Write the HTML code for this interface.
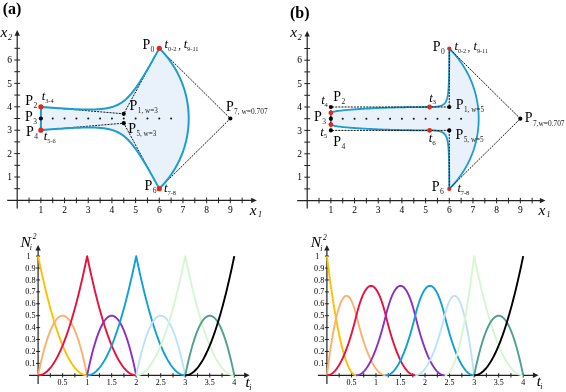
<!DOCTYPE html>
<html><head><meta charset="utf-8"><title>NURBS weights and knots</title>
<style>html,body{margin:0;padding:0;background:#fff}svg{display:block}svg text{font-family:"Liberation Serif","DejaVu Serif",serif}</style></head><body>
<svg width="566" height="392" viewBox="0 0 566 392" fill="#000">
<rect width="566" height="392" fill="#fff"/>
<path d="M159.28,48.3 L157.57,51.45 L155.97,54.36 L154.48,57.06 L153.08,59.58 L151.76,61.92 L150.52,64.11 L149.35,66.17 L148.24,68.09 L147.19,69.91 L146.18,71.61 L145.22,73.22 L144.31,74.75 L143.43,76.19 L142.59,77.55 L141.78,78.85 L141,80.08 L140.25,81.25 L139.52,82.37 L138.82,83.43 L138.14,84.44 L137.48,85.41 L136.83,86.34 L136.21,87.23 L135.6,88.08 L135.01,88.9 L134.42,89.68 L133.86,90.43 L133.3,91.15 L132.75,91.84 L132.22,92.51 L131.69,93.15 L131.17,93.77 L130.66,94.37 L130.16,94.94 L129.66,95.49 L129.17,96.03 L128.68,96.54 L128.2,97.04 L127.72,97.52 L127.24,97.99 L126.77,98.44 L126.3,98.88 L125.83,99.3 L125.37,99.71 L124.91,100.1 L124.44,100.48 L123.98,100.85 L123.52,101.21 L123.06,101.56 L122.59,101.9 L122.13,102.22 L121.66,102.54 L121.2,102.85 L120.73,103.15 L120.25,103.43 L119.78,103.71 L119.3,103.99 L118.82,104.25 L118.33,104.5 L117.84,104.75 L117.34,104.99 L116.84,105.23 L116.34,105.45 L115.82,105.67 L115.3,105.88 L114.78,106.09 L114.24,106.28 L113.7,106.48 L113.15,106.66 L112.59,106.84 L112.02,107.01 L111.44,107.18 L110.85,107.34 L110.24,107.5 L109.63,107.65 L109,107.79 L108.36,107.93 L107.7,108.06 L107.03,108.19 L106.35,108.31 L105.65,108.43 L104.92,108.54 L104.19,108.65 L103.43,108.75 L102.65,108.84 L101.84,108.93 L101.02,109.01 L100.17,109.09 L99.29,109.16 L98.39,109.22 L97.46,109.28 L96.49,109.34 L95.49,109.38 L94.46,109.42 L93.39,109.46 L92.28,109.48 L91.13,109.5 L89.93,109.51 L88.69,109.52 L87.39,109.52 L86.04,109.5 L84.63,109.48 L83.16,109.46 L81.62,109.42 L80,109.37 L78.31,109.31 L76.53,109.24 L74.66,109.16 L72.69,109.06 L70.61,108.95 L68.41,108.83 L66.08,108.69 L63.61,108.53 L60.98,108.36 L58.18,108.16 L55.19,107.94 L51.99,107.7 L48.56,107.43 L44.87,107.13 L40.88,106.8 L40.88,107 L40.88,107.19 L40.88,107.39 L40.88,107.58 L40.88,107.78 L40.88,107.97 L40.88,108.17 L40.88,108.36 L40.88,108.56 L40.88,108.75 L40.88,108.95 L40.88,109.14 L40.88,109.34 L40.88,109.53 L40.88,109.73 L40.88,109.92 L40.88,110.12 L40.88,110.31 L40.88,110.51 L40.88,110.7 L40.88,110.9 L40.88,111.09 L40.88,111.29 L40.88,111.48 L40.88,111.67 L40.88,111.87 L40.88,112.07 L40.88,112.26 L40.88,112.46 L40.88,112.65 L40.88,112.85 L40.88,113.04 L40.88,113.24 L40.88,113.43 L40.88,113.63 L40.88,113.82 L40.88,114.02 L40.88,114.21 L40.88,114.41 L40.88,114.6 L40.88,114.8 L40.88,114.99 L40.88,115.19 L40.88,115.38 L40.88,115.58 L40.88,115.77 L40.88,115.97 L40.88,116.16 L40.88,116.36 L40.88,116.55 L40.88,116.75 L40.88,116.94 L40.88,117.13 L40.88,117.33 L40.88,117.53 L40.88,117.72 L40.88,117.92 L40.88,118.11 L40.88,118.31 L40.88,118.5 L40.88,118.69 L40.88,118.89 L40.88,119.09 L40.88,119.28 L40.88,119.48 L40.88,119.67 L40.88,119.87 L40.88,120.06 L40.88,120.26 L40.88,120.45 L40.88,120.65 L40.88,120.84 L40.88,121.04 L40.88,121.23 L40.88,121.43 L40.88,121.62 L40.88,121.82 L40.88,122.01 L40.88,122.21 L40.88,122.4 L40.88,122.6 L40.88,122.79 L40.88,122.99 L40.88,123.18 L40.88,123.38 L40.88,123.57 L40.88,123.77 L40.88,123.96 L40.88,124.16 L40.88,124.35 L40.88,124.55 L40.88,124.74 L40.88,124.94 L40.88,125.13 L40.88,125.33 L40.88,125.52 L40.88,125.72 L40.88,125.91 L40.88,126.11 L40.88,126.3 L40.88,126.5 L40.88,126.69 L40.88,126.89 L40.88,127.08 L40.88,127.28 L40.88,127.47 L40.88,127.67 L40.88,127.86 L40.88,128.06 L40.88,128.25 L40.88,128.44 L40.88,128.64 L40.88,128.84 L40.88,129.03 L40.88,129.23 L40.88,129.42 L40.88,129.62 L40.88,129.81 L40.88,130 L40.88,130.2 L44.87,129.87 L48.56,129.57 L51.99,129.3 L55.19,129.06 L58.18,128.84 L60.98,128.64 L63.61,128.47 L66.08,128.31 L68.41,128.17 L70.61,128.05 L72.69,127.94 L74.66,127.84 L76.53,127.76 L78.31,127.69 L80,127.63 L81.62,127.58 L83.16,127.54 L84.63,127.52 L86.04,127.5 L87.39,127.48 L88.69,127.48 L89.93,127.49 L91.13,127.5 L92.28,127.52 L93.39,127.54 L94.46,127.58 L95.49,127.62 L96.49,127.66 L97.46,127.72 L98.39,127.78 L99.29,127.84 L100.17,127.91 L101.02,127.99 L101.84,128.07 L102.65,128.16 L103.43,128.25 L104.19,128.35 L104.92,128.46 L105.65,128.57 L106.35,128.69 L107.03,128.81 L107.7,128.94 L108.36,129.07 L109,129.21 L109.63,129.35 L110.24,129.5 L110.85,129.66 L111.44,129.82 L112.02,129.99 L112.59,130.16 L113.15,130.34 L113.7,130.52 L114.24,130.72 L114.78,130.91 L115.3,131.12 L115.82,131.33 L116.34,131.55 L116.84,131.77 L117.34,132.01 L117.84,132.25 L118.33,132.5 L118.82,132.75 L119.3,133.01 L119.78,133.29 L120.25,133.57 L120.73,133.85 L121.2,134.15 L121.66,134.46 L122.13,134.78 L122.59,135.1 L123.06,135.44 L123.52,135.79 L123.98,136.15 L124.44,136.52 L124.91,136.9 L125.37,137.29 L125.83,137.7 L126.3,138.12 L126.77,138.56 L127.24,139.01 L127.72,139.48 L128.2,139.96 L128.68,140.46 L129.17,140.97 L129.66,141.51 L130.16,142.06 L130.66,142.63 L131.17,143.23 L131.69,143.85 L132.22,144.49 L132.75,145.16 L133.3,145.85 L133.86,146.57 L134.42,147.32 L135.01,148.1 L135.6,148.92 L136.21,149.77 L136.83,150.66 L137.48,151.59 L138.14,152.56 L138.82,153.57 L139.52,154.63 L140.25,155.75 L141,156.92 L141.78,158.15 L142.59,159.45 L143.43,160.81 L144.31,162.25 L145.22,163.78 L146.18,165.39 L147.19,167.09 L148.24,168.91 L149.35,170.83 L150.52,172.89 L151.76,175.08 L153.08,177.42 L154.48,179.94 L155.97,182.64 L157.57,185.55 L159.28,188.7 L160.11,187.87 L160.94,187.02 L161.76,186.16 L162.58,185.28 L163.39,184.39 L164.19,183.49 L164.98,182.57 L165.77,181.64 L166.54,180.7 L167.31,179.74 L168.07,178.77 L168.83,177.79 L169.57,176.79 L170.3,175.78 L171.02,174.75 L171.73,173.72 L172.43,172.67 L173.12,171.61 L173.8,170.53 L174.47,169.44 L175.12,168.35 L175.77,167.23 L176.4,166.11 L177.02,164.98 L177.62,163.83 L178.21,162.67 L178.79,161.5 L179.36,160.32 L179.91,159.13 L180.44,157.93 L180.96,156.72 L181.47,155.5 L181.96,154.27 L182.43,153.03 L182.89,151.78 L183.34,150.52 L183.76,149.25 L184.18,147.98 L184.57,146.69 L184.95,145.4 L185.31,144.1 L185.65,142.8 L185.98,141.49 L186.28,140.17 L186.57,138.84 L186.85,137.51 L187.1,136.18 L187.34,134.84 L187.55,133.49 L187.75,132.14 L187.93,130.79 L188.09,129.43 L188.24,128.07 L188.36,126.71 L188.47,125.35 L188.55,123.98 L188.62,122.61 L188.67,121.24 L188.7,119.87 L188.71,118.5 L188.7,117.13 L188.67,115.76 L188.62,114.39 L188.55,113.02 L188.47,111.65 L188.36,110.29 L188.24,108.93 L188.09,107.57 L187.93,106.21 L187.75,104.86 L187.55,103.51 L187.34,102.16 L187.1,100.82 L186.85,99.49 L186.57,98.16 L186.28,96.83 L185.98,95.51 L185.65,94.2 L185.31,92.9 L184.95,91.6 L184.57,90.31 L184.18,89.02 L183.76,87.75 L183.34,86.48 L182.89,85.22 L182.43,83.97 L181.96,82.73 L181.47,81.5 L180.96,80.28 L180.44,79.07 L179.91,77.87 L179.36,76.68 L178.79,75.5 L178.21,74.33 L177.62,73.17 L177.02,72.02 L176.4,70.89 L175.77,69.77 L175.12,68.65 L174.47,67.56 L173.8,66.47 L173.12,65.39 L172.43,64.33 L171.73,63.28 L171.02,62.25 L170.3,61.22 L169.57,60.21 L168.83,59.21 L168.07,58.23 L167.31,57.26 L166.54,56.3 L165.77,55.36 L164.98,54.43 L164.19,53.51 L163.39,52.61 L162.58,51.72 L161.76,50.84 L160.94,49.98 L160.11,49.13 L159.28,48.3Z" fill="#e9f2fb" stroke="none"/>
<path d="M159.28,48.3 L123.76,113.82 L40.88,106.8 L40.88,118.5 L40.88,130.2 L123.76,123.18 L159.28,188.7 L230.32,118.5 L159.28,48.3" fill="none" stroke="#111" stroke-width="1" stroke-dasharray="2,1.1"/>
<path d="M159.28,48.3 L157.57,51.45 L155.97,54.36 L154.48,57.06 L153.08,59.58 L151.76,61.92 L150.52,64.11 L149.35,66.17 L148.24,68.09 L147.19,69.91 L146.18,71.61 L145.22,73.22 L144.31,74.75 L143.43,76.19 L142.59,77.55 L141.78,78.85 L141,80.08 L140.25,81.25 L139.52,82.37 L138.82,83.43 L138.14,84.44 L137.48,85.41 L136.83,86.34 L136.21,87.23 L135.6,88.08 L135.01,88.9 L134.42,89.68 L133.86,90.43 L133.3,91.15 L132.75,91.84 L132.22,92.51 L131.69,93.15 L131.17,93.77 L130.66,94.37 L130.16,94.94 L129.66,95.49 L129.17,96.03 L128.68,96.54 L128.2,97.04 L127.72,97.52 L127.24,97.99 L126.77,98.44 L126.3,98.88 L125.83,99.3 L125.37,99.71 L124.91,100.1 L124.44,100.48 L123.98,100.85 L123.52,101.21 L123.06,101.56 L122.59,101.9 L122.13,102.22 L121.66,102.54 L121.2,102.85 L120.73,103.15 L120.25,103.43 L119.78,103.71 L119.3,103.99 L118.82,104.25 L118.33,104.5 L117.84,104.75 L117.34,104.99 L116.84,105.23 L116.34,105.45 L115.82,105.67 L115.3,105.88 L114.78,106.09 L114.24,106.28 L113.7,106.48 L113.15,106.66 L112.59,106.84 L112.02,107.01 L111.44,107.18 L110.85,107.34 L110.24,107.5 L109.63,107.65 L109,107.79 L108.36,107.93 L107.7,108.06 L107.03,108.19 L106.35,108.31 L105.65,108.43 L104.92,108.54 L104.19,108.65 L103.43,108.75 L102.65,108.84 L101.84,108.93 L101.02,109.01 L100.17,109.09 L99.29,109.16 L98.39,109.22 L97.46,109.28 L96.49,109.34 L95.49,109.38 L94.46,109.42 L93.39,109.46 L92.28,109.48 L91.13,109.5 L89.93,109.51 L88.69,109.52 L87.39,109.52 L86.04,109.5 L84.63,109.48 L83.16,109.46 L81.62,109.42 L80,109.37 L78.31,109.31 L76.53,109.24 L74.66,109.16 L72.69,109.06 L70.61,108.95 L68.41,108.83 L66.08,108.69 L63.61,108.53 L60.98,108.36 L58.18,108.16 L55.19,107.94 L51.99,107.7 L48.56,107.43 L44.87,107.13 L40.88,106.8 L40.88,107 L40.88,107.19 L40.88,107.39 L40.88,107.58 L40.88,107.78 L40.88,107.97 L40.88,108.17 L40.88,108.36 L40.88,108.56 L40.88,108.75 L40.88,108.95 L40.88,109.14 L40.88,109.34 L40.88,109.53 L40.88,109.73 L40.88,109.92 L40.88,110.12 L40.88,110.31 L40.88,110.51 L40.88,110.7 L40.88,110.9 L40.88,111.09 L40.88,111.29 L40.88,111.48 L40.88,111.67 L40.88,111.87 L40.88,112.07 L40.88,112.26 L40.88,112.46 L40.88,112.65 L40.88,112.85 L40.88,113.04 L40.88,113.24 L40.88,113.43 L40.88,113.63 L40.88,113.82 L40.88,114.02 L40.88,114.21 L40.88,114.41 L40.88,114.6 L40.88,114.8 L40.88,114.99 L40.88,115.19 L40.88,115.38 L40.88,115.58 L40.88,115.77 L40.88,115.97 L40.88,116.16 L40.88,116.36 L40.88,116.55 L40.88,116.75 L40.88,116.94 L40.88,117.13 L40.88,117.33 L40.88,117.53 L40.88,117.72 L40.88,117.92 L40.88,118.11 L40.88,118.31 L40.88,118.5 L40.88,118.69 L40.88,118.89 L40.88,119.09 L40.88,119.28 L40.88,119.48 L40.88,119.67 L40.88,119.87 L40.88,120.06 L40.88,120.26 L40.88,120.45 L40.88,120.65 L40.88,120.84 L40.88,121.04 L40.88,121.23 L40.88,121.43 L40.88,121.62 L40.88,121.82 L40.88,122.01 L40.88,122.21 L40.88,122.4 L40.88,122.6 L40.88,122.79 L40.88,122.99 L40.88,123.18 L40.88,123.38 L40.88,123.57 L40.88,123.77 L40.88,123.96 L40.88,124.16 L40.88,124.35 L40.88,124.55 L40.88,124.74 L40.88,124.94 L40.88,125.13 L40.88,125.33 L40.88,125.52 L40.88,125.72 L40.88,125.91 L40.88,126.11 L40.88,126.3 L40.88,126.5 L40.88,126.69 L40.88,126.89 L40.88,127.08 L40.88,127.28 L40.88,127.47 L40.88,127.67 L40.88,127.86 L40.88,128.06 L40.88,128.25 L40.88,128.44 L40.88,128.64 L40.88,128.84 L40.88,129.03 L40.88,129.23 L40.88,129.42 L40.88,129.62 L40.88,129.81 L40.88,130 L40.88,130.2 L44.87,129.87 L48.56,129.57 L51.99,129.3 L55.19,129.06 L58.18,128.84 L60.98,128.64 L63.61,128.47 L66.08,128.31 L68.41,128.17 L70.61,128.05 L72.69,127.94 L74.66,127.84 L76.53,127.76 L78.31,127.69 L80,127.63 L81.62,127.58 L83.16,127.54 L84.63,127.52 L86.04,127.5 L87.39,127.48 L88.69,127.48 L89.93,127.49 L91.13,127.5 L92.28,127.52 L93.39,127.54 L94.46,127.58 L95.49,127.62 L96.49,127.66 L97.46,127.72 L98.39,127.78 L99.29,127.84 L100.17,127.91 L101.02,127.99 L101.84,128.07 L102.65,128.16 L103.43,128.25 L104.19,128.35 L104.92,128.46 L105.65,128.57 L106.35,128.69 L107.03,128.81 L107.7,128.94 L108.36,129.07 L109,129.21 L109.63,129.35 L110.24,129.5 L110.85,129.66 L111.44,129.82 L112.02,129.99 L112.59,130.16 L113.15,130.34 L113.7,130.52 L114.24,130.72 L114.78,130.91 L115.3,131.12 L115.82,131.33 L116.34,131.55 L116.84,131.77 L117.34,132.01 L117.84,132.25 L118.33,132.5 L118.82,132.75 L119.3,133.01 L119.78,133.29 L120.25,133.57 L120.73,133.85 L121.2,134.15 L121.66,134.46 L122.13,134.78 L122.59,135.1 L123.06,135.44 L123.52,135.79 L123.98,136.15 L124.44,136.52 L124.91,136.9 L125.37,137.29 L125.83,137.7 L126.3,138.12 L126.77,138.56 L127.24,139.01 L127.72,139.48 L128.2,139.96 L128.68,140.46 L129.17,140.97 L129.66,141.51 L130.16,142.06 L130.66,142.63 L131.17,143.23 L131.69,143.85 L132.22,144.49 L132.75,145.16 L133.3,145.85 L133.86,146.57 L134.42,147.32 L135.01,148.1 L135.6,148.92 L136.21,149.77 L136.83,150.66 L137.48,151.59 L138.14,152.56 L138.82,153.57 L139.52,154.63 L140.25,155.75 L141,156.92 L141.78,158.15 L142.59,159.45 L143.43,160.81 L144.31,162.25 L145.22,163.78 L146.18,165.39 L147.19,167.09 L148.24,168.91 L149.35,170.83 L150.52,172.89 L151.76,175.08 L153.08,177.42 L154.48,179.94 L155.97,182.64 L157.57,185.55 L159.28,188.7 L160.11,187.87 L160.94,187.02 L161.76,186.16 L162.58,185.28 L163.39,184.39 L164.19,183.49 L164.98,182.57 L165.77,181.64 L166.54,180.7 L167.31,179.74 L168.07,178.77 L168.83,177.79 L169.57,176.79 L170.3,175.78 L171.02,174.75 L171.73,173.72 L172.43,172.67 L173.12,171.61 L173.8,170.53 L174.47,169.44 L175.12,168.35 L175.77,167.23 L176.4,166.11 L177.02,164.98 L177.62,163.83 L178.21,162.67 L178.79,161.5 L179.36,160.32 L179.91,159.13 L180.44,157.93 L180.96,156.72 L181.47,155.5 L181.96,154.27 L182.43,153.03 L182.89,151.78 L183.34,150.52 L183.76,149.25 L184.18,147.98 L184.57,146.69 L184.95,145.4 L185.31,144.1 L185.65,142.8 L185.98,141.49 L186.28,140.17 L186.57,138.84 L186.85,137.51 L187.1,136.18 L187.34,134.84 L187.55,133.49 L187.75,132.14 L187.93,130.79 L188.09,129.43 L188.24,128.07 L188.36,126.71 L188.47,125.35 L188.55,123.98 L188.62,122.61 L188.67,121.24 L188.7,119.87 L188.71,118.5 L188.7,117.13 L188.67,115.76 L188.62,114.39 L188.55,113.02 L188.47,111.65 L188.36,110.29 L188.24,108.93 L188.09,107.57 L187.93,106.21 L187.75,104.86 L187.55,103.51 L187.34,102.16 L187.1,100.82 L186.85,99.49 L186.57,98.16 L186.28,96.83 L185.98,95.51 L185.65,94.2 L185.31,92.9 L184.95,91.6 L184.57,90.31 L184.18,89.02 L183.76,87.75 L183.34,86.48 L182.89,85.22 L182.43,83.97 L181.96,82.73 L181.47,81.5 L180.96,80.28 L180.44,79.07 L179.91,77.87 L179.36,76.68 L178.79,75.5 L178.21,74.33 L177.62,73.17 L177.02,72.02 L176.4,70.89 L175.77,69.77 L175.12,68.65 L174.47,67.56 L173.8,66.47 L173.12,65.39 L172.43,64.33 L171.73,63.28 L171.02,62.25 L170.3,61.22 L169.57,60.21 L168.83,59.21 L168.07,58.23 L167.31,57.26 L166.54,56.3 L165.77,55.36 L164.98,54.43 L164.19,53.51 L163.39,52.61 L162.58,51.72 L161.76,50.84 L160.94,49.98 L160.11,49.13 L159.28,48.3Z" fill="none" stroke="#1b9dd2" stroke-width="2" stroke-linejoin="round"/>
<path d="M7.2,200.4 H252.8 M17.2,208.4 V34.1" stroke="#222" stroke-width="1.2" fill="none"/>
<path d="M256.8,200.4 L251.2,197.7 L251.2,203.1Z" fill="#222"/>
<path d="M17.2,30.1 L14.5,35.7 L19.9,35.7Z" fill="#222"/>
<path d="M29.04,197.6 v5.6 M40.88,197.6 v5.6 M52.72,197.6 v5.6 M64.56,197.6 v5.6 M76.4,197.6 v5.6 M88.24,197.6 v5.6 M100.08,197.6 v5.6 M111.92,197.6 v5.6 M123.76,197.6 v5.6 M135.6,197.6 v5.6 M147.44,197.6 v5.6 M159.28,197.6 v5.6 M171.12,197.6 v5.6 M182.96,197.6 v5.6 M194.8,197.6 v5.6 M206.64,197.6 v5.6 M218.48,197.6 v5.6 M230.32,197.6 v5.6 M242.16,197.6 v5.6 M14.3,188.7 h5.8 M14.3,177 h5.8 M14.3,165.3 h5.8 M14.3,153.6 h5.8 M14.3,141.9 h5.8 M14.3,130.2 h5.8 M14.3,118.5 h5.8 M14.3,106.8 h5.8 M14.3,95.1 h5.8 M14.3,83.4 h5.8 M14.3,71.7 h5.8 M14.3,60 h5.8 M14.3,48.3 h5.8" stroke="#222" stroke-width="1" fill="none"/>
<text x="40.88" y="212.6" font-size="9.5" text-anchor="middle">1</text>
<text x="64.56" y="212.6" font-size="9.5" text-anchor="middle">2</text>
<text x="88.24" y="212.6" font-size="9.5" text-anchor="middle">3</text>
<text x="111.92" y="212.6" font-size="9.5" text-anchor="middle">4</text>
<text x="135.6" y="212.6" font-size="9.5" text-anchor="middle">5</text>
<text x="159.28" y="212.6" font-size="9.5" text-anchor="middle">6</text>
<text x="182.96" y="212.6" font-size="9.5" text-anchor="middle">7</text>
<text x="206.64" y="212.6" font-size="9.5" text-anchor="middle">8</text>
<text x="230.32" y="212.6" font-size="9.5" text-anchor="middle">9</text>
<text x="12.1" y="180.1" font-size="9.5" text-anchor="end">1</text>
<text x="12.1" y="156.7" font-size="9.5" text-anchor="end">2</text>
<text x="12.1" y="133.3" font-size="9.5" text-anchor="end">3</text>
<text x="12.1" y="109.9" font-size="9.5" text-anchor="end">4</text>
<text x="12.1" y="86.5" font-size="9.5" text-anchor="end">5</text>
<text x="12.1" y="63.1" font-size="9.5" text-anchor="end">6</text>
<circle cx="52.72" cy="118.5" r="1" fill="#111"/>
<circle cx="64.56" cy="118.5" r="1" fill="#111"/>
<circle cx="76.4" cy="118.5" r="1" fill="#111"/>
<circle cx="88.24" cy="118.5" r="1" fill="#111"/>
<circle cx="100.08" cy="118.5" r="1" fill="#111"/>
<circle cx="111.92" cy="118.5" r="1" fill="#111"/>
<circle cx="123.76" cy="118.5" r="1" fill="#111"/>
<circle cx="135.6" cy="118.5" r="1" fill="#111"/>
<circle cx="147.44" cy="118.5" r="1" fill="#111"/>
<circle cx="159.28" cy="118.5" r="1" fill="#111"/>
<circle cx="171.12" cy="118.5" r="1" fill="#111"/>
<circle cx="159.28" cy="48.3" r="2.6" fill="#e0281c"/>
<circle cx="40.88" cy="106.8" r="2.6" fill="#e0281c"/>
<circle cx="40.88" cy="130.2" r="2.6" fill="#e0281c"/>
<circle cx="159.28" cy="188.7" r="2.6" fill="#e0281c"/>
<circle cx="123.76" cy="113.82" r="2.1" fill="#000"/>
<circle cx="123.76" cy="123.18" r="2.1" fill="#000"/>
<circle cx="40.88" cy="118.5" r="2.1" fill="#000"/>
<circle cx="230.32" cy="118.5" r="2.1" fill="#000"/>
<text x="2.7" y="14" font-size="16" font-weight="bold">(a)</text>
<text x="0.4" y="37.3" font-size="15.5" font-style="italic">x<tspan font-size="8" dy="2.9" dx="0.6">2</tspan></text>
<text x="249.8" y="214.6" font-size="15.5" font-style="italic">x<tspan font-size="8" dy="2.8" dx="1.2">1</tspan></text>
<text x="142.4" y="48.5" font-size="14">P<tspan font-size="7.6" dx="0.4" dy="3.0" fill="#222">0</tspan></text>
<text x="164.6" y="47.7" font-size="12.8" font-style="italic">t<tspan font-size="6.4" dx="-0.2" dy="2.8" font-style="normal" fill="#222">0-2</tspan></text>
<text x="178.2" y="48.7" font-size="11">,</text>
<text x="183.7" y="47.7" font-size="12.8" font-style="italic">t<tspan font-size="6.4" dx="-0.2" dy="2.8" font-style="normal" fill="#222">9-11</tspan></text>
<text x="25.2" y="104.9" font-size="14">P<tspan font-size="7.6" dx="0.4" dy="3.0" fill="#222">2</tspan></text>
<text x="25" y="120.7" font-size="14">P<tspan font-size="7.6" dx="0.4" dy="3.0" fill="#222">3</tspan></text>
<text x="26.1" y="136.4" font-size="14">P<tspan font-size="7.6" dx="0.4" dy="3.0" fill="#222">4</tspan></text>
<text x="41.8" y="100.1" font-size="12.8" font-style="italic">t<tspan font-size="6.4" dx="-0.2" dy="2.8" font-style="normal" fill="#222">3-4</tspan></text>
<text x="43.8" y="140.1" font-size="12.8" font-style="italic">t<tspan font-size="6.4" dx="-0.2" dy="2.8" font-style="normal" fill="#222">5-6</tspan></text>
<text x="129.6" y="109.7" font-size="14">P<tspan font-size="7.2" dx="0.4" dy="3.0" fill="#222">1, w=3</tspan></text>
<text x="128.2" y="133.3" font-size="14">P<tspan font-size="7.2" dx="0.4" dy="3.0" fill="#222">5, w=3</tspan></text>
<text x="225.9" y="110.5" font-size="14">P<tspan font-size="7.4" dx="0.4" dy="3.6" fill="#222">7, w=0.707</tspan></text>
<text x="144.5" y="189.8" font-size="14">P<tspan font-size="7.6" dx="0.4" dy="3.0" fill="#222">6</tspan></text>
<text x="164.1" y="192" font-size="12.8" font-style="italic">t<tspan font-size="6.4" dx="-0.2" dy="2.8" font-style="normal" fill="#222">7-8</tspan></text>
<path d="M449.28,48.5 L449.27,55.75 L449.24,61.59 L449.2,66.39 L449.15,70.41 L449.09,73.82 L449.03,76.75 L448.95,79.3 L448.88,81.53 L448.79,83.5 L448.71,85.26 L448.62,86.83 L448.52,88.25 L448.42,89.53 L448.32,90.7 L448.21,91.76 L448.1,92.74 L447.99,93.64 L447.87,94.46 L447.75,95.23 L447.62,95.94 L447.5,96.6 L447.36,97.22 L447.23,97.79 L447.09,98.33 L446.94,98.84 L446.79,99.31 L446.64,99.76 L446.49,100.18 L446.32,100.58 L446.16,100.95 L445.99,101.31 L445.81,101.64 L445.63,101.96 L445.44,102.26 L445.25,102.55 L445.05,102.82 L444.85,103.08 L444.64,103.33 L444.42,103.56 L444.19,103.78 L443.96,104 L443.72,104.2 L443.48,104.39 L443.22,104.57 L442.96,104.75 L442.68,104.92 L442.4,105.08 L442.1,105.23 L441.8,105.37 L441.48,105.51 L441.16,105.64 L440.82,105.76 L440.46,105.88 L440.09,105.99 L439.71,106.1 L439.31,106.2 L438.9,106.29 L438.46,106.38 L438.01,106.46 L437.53,106.54 L437.04,106.61 L436.52,106.67 L435.97,106.73 L435.4,106.79 L434.8,106.83 L434.17,106.88 L433.5,106.91 L432.8,106.94 L432.05,106.97 L431.27,106.99 L430.43,107 L429.55,107 L428.62,107 L427.68,107 L426.71,107 L425.72,107.01 L424.7,107.01 L423.67,107.02 L422.61,107.02 L421.52,107.03 L420.41,107.04 L419.28,107.05 L418.11,107.06 L416.93,107.07 L415.71,107.08 L414.47,107.1 L413.2,107.11 L411.91,107.13 L410.58,107.15 L409.23,107.17 L407.85,107.2 L406.44,107.22 L405.01,107.25 L403.54,107.28 L402.05,107.31 L400.53,107.34 L398.98,107.38 L397.4,107.42 L395.79,107.46 L394.16,107.51 L392.5,107.55 L390.81,107.6 L389.1,107.66 L387.37,107.71 L385.61,107.77 L383.83,107.84 L382.03,107.9 L380.21,107.97 L378.38,108.05 L376.53,108.13 L374.66,108.21 L372.79,108.29 L370.91,108.38 L369.02,108.48 L367.14,108.58 L365.25,108.68 L363.37,108.78 L361.49,108.89 L359.63,109.01 L357.79,109.13 L355.97,109.25 L354.17,109.38 L352.4,109.51 L350.67,109.64 L348.97,109.78 L347.32,109.92 L345.73,110.07 L344.18,110.22 L342.7,110.37 L341.28,110.53 L339.94,110.69 L338.67,110.85 L337.48,111.01 L336.38,111.18 L335.36,111.34 L334.45,111.51 L333.63,111.68 L332.91,111.85 L332.29,112.02 L331.79,112.19 L331.39,112.35 L331.11,112.52 L330.94,112.69 L330.88,112.85 L330.88,113.01 L330.88,113.17 L330.88,113.34 L330.88,113.5 L330.88,113.66 L330.88,113.83 L330.88,113.99 L330.88,114.15 L330.88,114.31 L330.88,114.48 L330.88,114.64 L330.88,114.8 L330.88,114.96 L330.88,115.13 L330.88,115.29 L330.88,115.45 L330.88,115.61 L330.88,115.78 L330.88,115.94 L330.88,116.1 L330.88,116.26 L330.88,116.42 L330.88,116.59 L330.88,116.75 L330.88,116.91 L330.88,117.07 L330.88,117.24 L330.88,117.4 L330.88,117.56 L330.88,117.73 L330.88,117.89 L330.88,118.05 L330.88,118.21 L330.88,118.38 L330.88,118.54 L330.88,118.7 L330.88,118.86 L330.88,119.02 L330.88,119.19 L330.88,119.35 L330.88,119.51 L330.88,119.67 L330.88,119.84 L330.88,120 L330.88,120.16 L330.88,120.33 L330.88,120.49 L330.88,120.65 L330.88,120.81 L330.88,120.98 L330.88,121.14 L330.88,121.3 L330.88,121.46 L330.88,121.62 L330.88,121.79 L330.88,121.95 L330.88,122.11 L330.88,122.28 L330.88,122.44 L330.88,122.6 L330.88,122.76 L330.88,122.92 L330.88,123.09 L330.88,123.25 L330.88,123.41 L330.88,123.58 L330.88,123.74 L330.88,123.9 L330.88,124.06 L330.88,124.22 L330.88,124.39 L330.88,124.55 L330.94,124.71 L331.11,124.88 L331.39,125.05 L331.79,125.21 L332.29,125.38 L332.91,125.55 L333.63,125.72 L334.45,125.89 L335.36,126.06 L336.38,126.22 L337.48,126.39 L338.67,126.55 L339.94,126.71 L341.28,126.87 L342.7,127.03 L344.18,127.18 L345.73,127.33 L347.32,127.47 L348.97,127.62 L350.67,127.76 L352.4,127.89 L354.17,128.02 L355.97,128.15 L357.79,128.27 L359.63,128.39 L361.49,128.51 L363.37,128.62 L365.25,128.72 L367.14,128.82 L369.02,128.92 L370.91,129.02 L372.79,129.11 L374.66,129.19 L376.53,129.27 L378.38,129.35 L380.21,129.43 L382.03,129.5 L383.83,129.56 L385.61,129.63 L387.37,129.69 L389.1,129.74 L390.81,129.8 L392.5,129.85 L394.16,129.89 L395.79,129.94 L397.4,129.98 L398.98,130.02 L400.53,130.06 L402.05,130.09 L403.54,130.12 L405.01,130.15 L406.44,130.18 L407.85,130.2 L409.23,130.23 L410.58,130.25 L411.91,130.27 L413.2,130.29 L414.47,130.3 L415.71,130.32 L416.93,130.33 L418.11,130.34 L419.28,130.35 L420.41,130.36 L421.52,130.37 L422.61,130.38 L423.67,130.38 L424.7,130.39 L425.72,130.39 L426.71,130.4 L427.68,130.4 L428.62,130.4 L429.55,130.4 L430.43,130.4 L431.27,130.41 L432.05,130.43 L432.8,130.46 L433.5,130.49 L434.17,130.52 L434.8,130.57 L435.4,130.61 L435.97,130.67 L436.52,130.73 L437.04,130.79 L437.53,130.86 L438.01,130.94 L438.46,131.02 L438.9,131.11 L439.31,131.2 L439.71,131.3 L440.09,131.41 L440.46,131.52 L440.82,131.64 L441.16,131.76 L441.48,131.89 L441.8,132.03 L442.1,132.17 L442.4,132.32 L442.68,132.48 L442.96,132.65 L443.22,132.83 L443.48,133.01 L443.72,133.2 L443.96,133.4 L444.19,133.62 L444.42,133.84 L444.64,134.07 L444.85,134.32 L445.05,134.58 L445.25,134.85 L445.44,135.14 L445.63,135.44 L445.81,135.76 L445.99,136.09 L446.16,136.45 L446.32,136.82 L446.49,137.22 L446.64,137.64 L446.79,138.09 L446.94,138.56 L447.09,139.07 L447.23,139.61 L447.36,140.18 L447.5,140.8 L447.62,141.46 L447.75,142.17 L447.87,142.94 L447.99,143.76 L448.1,144.66 L448.21,145.64 L448.32,146.7 L448.42,147.87 L448.52,149.15 L448.62,150.57 L448.71,152.14 L448.79,153.9 L448.88,155.87 L448.95,158.1 L449.03,160.65 L449.09,163.58 L449.15,166.99 L449.2,171.01 L449.24,175.81 L449.27,181.65 L449.28,188.9 L450.11,188.07 L450.94,187.22 L451.76,186.36 L452.58,185.48 L453.39,184.59 L454.19,183.69 L454.98,182.77 L455.77,181.84 L456.54,180.9 L457.31,179.94 L458.07,178.97 L458.83,177.99 L459.57,176.99 L460.3,175.98 L461.02,174.95 L461.73,173.92 L462.43,172.87 L463.12,171.81 L463.8,170.73 L464.47,169.64 L465.12,168.55 L465.77,167.43 L466.4,166.31 L467.02,165.18 L467.62,164.03 L468.21,162.87 L468.79,161.7 L469.36,160.52 L469.91,159.33 L470.44,158.13 L470.96,156.92 L471.47,155.7 L471.96,154.47 L472.43,153.23 L472.89,151.98 L473.34,150.72 L473.76,149.45 L474.18,148.18 L474.57,146.89 L474.95,145.6 L475.31,144.3 L475.65,143 L475.98,141.69 L476.28,140.37 L476.57,139.04 L476.85,137.71 L477.1,136.38 L477.34,135.04 L477.55,133.69 L477.75,132.34 L477.93,130.99 L478.09,129.63 L478.24,128.27 L478.36,126.91 L478.47,125.55 L478.55,124.18 L478.62,122.81 L478.67,121.44 L478.7,120.07 L478.71,118.7 L478.7,117.33 L478.67,115.96 L478.62,114.59 L478.55,113.22 L478.47,111.85 L478.36,110.49 L478.24,109.13 L478.09,107.77 L477.93,106.41 L477.75,105.06 L477.55,103.71 L477.34,102.36 L477.1,101.02 L476.85,99.69 L476.57,98.36 L476.28,97.03 L475.98,95.71 L475.65,94.4 L475.31,93.1 L474.95,91.8 L474.57,90.51 L474.18,89.22 L473.76,87.95 L473.34,86.68 L472.89,85.42 L472.43,84.17 L471.96,82.93 L471.47,81.7 L470.96,80.48 L470.44,79.27 L469.91,78.07 L469.36,76.88 L468.79,75.7 L468.21,74.53 L467.62,73.37 L467.02,72.22 L466.4,71.09 L465.77,69.97 L465.12,68.85 L464.47,67.76 L463.8,66.67 L463.12,65.59 L462.43,64.53 L461.73,63.48 L461.02,62.45 L460.3,61.42 L459.57,60.41 L458.83,59.41 L458.07,58.43 L457.31,57.46 L456.54,56.5 L455.77,55.56 L454.98,54.63 L454.19,53.71 L453.39,52.81 L452.58,51.92 L451.76,51.04 L450.94,50.18 L450.11,49.33 L449.28,48.5Z" fill="#e9f2fb" stroke="none"/>
<path d="M449.28,48.5 L449.27,55.75 L449.24,61.59 L449.2,66.39 L449.15,70.41 L449.09,73.82 L449.03,76.75 L448.95,79.3 L448.88,81.53 L448.79,83.5 L448.71,85.26 L448.62,86.83 L448.52,88.25 L448.42,89.53 L448.32,90.7 L448.21,91.76 L448.1,92.74 L447.99,93.64 L447.87,94.46 L447.75,95.23 L447.62,95.94 L447.5,96.6 L447.36,97.22 L447.23,97.79 L447.09,98.33 L446.94,98.84 L446.79,99.31 L446.64,99.76 L446.49,100.18 L446.32,100.58 L446.16,100.95 L445.99,101.31 L445.81,101.64 L445.63,101.96 L445.44,102.26 L445.25,102.55 L445.05,102.82 L444.85,103.08 L444.64,103.33 L444.42,103.56 L444.19,103.78 L443.96,104 L443.72,104.2 L443.48,104.39 L443.22,104.57 L442.96,104.75 L442.68,104.92 L442.4,105.08 L442.1,105.23 L441.8,105.37 L441.48,105.51 L441.16,105.64 L440.82,105.76 L440.46,105.88 L440.09,105.99 L439.71,106.1 L439.31,106.2 L438.9,106.29 L438.46,106.38 L438.01,106.46 L437.53,106.54 L437.04,106.61 L436.52,106.67 L435.97,106.73 L435.4,106.79 L434.8,106.83 L434.17,106.88 L433.5,106.91 L432.8,106.94 L432.05,106.97 L431.27,106.99 L430.43,107 L429.55,107 L428.62,107 L427.68,107 L426.71,107 L425.72,107.01 L424.7,107.01 L423.67,107.02 L422.61,107.02 L421.52,107.03 L420.41,107.04 L419.28,107.05 L418.11,107.06 L416.93,107.07 L415.71,107.08 L414.47,107.1 L413.2,107.11 L411.91,107.13 L410.58,107.15 L409.23,107.17 L407.85,107.2 L406.44,107.22 L405.01,107.25 L403.54,107.28 L402.05,107.31 L400.53,107.34 L398.98,107.38 L397.4,107.42 L395.79,107.46 L394.16,107.51 L392.5,107.55 L390.81,107.6 L389.1,107.66 L387.37,107.71 L385.61,107.77 L383.83,107.84 L382.03,107.9 L380.21,107.97 L378.38,108.05 L376.53,108.13 L374.66,108.21 L372.79,108.29 L370.91,108.38 L369.02,108.48 L367.14,108.58 L365.25,108.68 L363.37,108.78 L361.49,108.89 L359.63,109.01 L357.79,109.13 L355.97,109.25 L354.17,109.38 L352.4,109.51 L350.67,109.64 L348.97,109.78 L347.32,109.92 L345.73,110.07 L344.18,110.22 L342.7,110.37 L341.28,110.53 L339.94,110.69 L338.67,110.85 L337.48,111.01 L336.38,111.18 L335.36,111.34 L334.45,111.51 L333.63,111.68 L332.91,111.85 L332.29,112.02 L331.79,112.19 L331.39,112.35 L331.11,112.52 L330.94,112.69 L330.88,112.85 L330.88,113.01 L330.88,113.17 L330.88,113.34 L330.88,113.5 L330.88,113.66 L330.88,113.83 L330.88,113.99 L330.88,114.15 L330.88,114.31 L330.88,114.48 L330.88,114.64 L330.88,114.8 L330.88,114.96 L330.88,115.13 L330.88,115.29 L330.88,115.45 L330.88,115.61 L330.88,115.78 L330.88,115.94 L330.88,116.1 L330.88,116.26 L330.88,116.42 L330.88,116.59 L330.88,116.75 L330.88,116.91 L330.88,117.07 L330.88,117.24 L330.88,117.4 L330.88,117.56 L330.88,117.73 L330.88,117.89 L330.88,118.05 L330.88,118.21 L330.88,118.38 L330.88,118.54 L330.88,118.7 L330.88,118.86 L330.88,119.02 L330.88,119.19 L330.88,119.35 L330.88,119.51 L330.88,119.67 L330.88,119.84 L330.88,120 L330.88,120.16 L330.88,120.33 L330.88,120.49 L330.88,120.65 L330.88,120.81 L330.88,120.98 L330.88,121.14 L330.88,121.3 L330.88,121.46 L330.88,121.62 L330.88,121.79 L330.88,121.95 L330.88,122.11 L330.88,122.28 L330.88,122.44 L330.88,122.6 L330.88,122.76 L330.88,122.92 L330.88,123.09 L330.88,123.25 L330.88,123.41 L330.88,123.58 L330.88,123.74 L330.88,123.9 L330.88,124.06 L330.88,124.22 L330.88,124.39 L330.88,124.55 L330.94,124.71 L331.11,124.88 L331.39,125.05 L331.79,125.21 L332.29,125.38 L332.91,125.55 L333.63,125.72 L334.45,125.89 L335.36,126.06 L336.38,126.22 L337.48,126.39 L338.67,126.55 L339.94,126.71 L341.28,126.87 L342.7,127.03 L344.18,127.18 L345.73,127.33 L347.32,127.47 L348.97,127.62 L350.67,127.76 L352.4,127.89 L354.17,128.02 L355.97,128.15 L357.79,128.27 L359.63,128.39 L361.49,128.51 L363.37,128.62 L365.25,128.72 L367.14,128.82 L369.02,128.92 L370.91,129.02 L372.79,129.11 L374.66,129.19 L376.53,129.27 L378.38,129.35 L380.21,129.43 L382.03,129.5 L383.83,129.56 L385.61,129.63 L387.37,129.69 L389.1,129.74 L390.81,129.8 L392.5,129.85 L394.16,129.89 L395.79,129.94 L397.4,129.98 L398.98,130.02 L400.53,130.06 L402.05,130.09 L403.54,130.12 L405.01,130.15 L406.44,130.18 L407.85,130.2 L409.23,130.23 L410.58,130.25 L411.91,130.27 L413.2,130.29 L414.47,130.3 L415.71,130.32 L416.93,130.33 L418.11,130.34 L419.28,130.35 L420.41,130.36 L421.52,130.37 L422.61,130.38 L423.67,130.38 L424.7,130.39 L425.72,130.39 L426.71,130.4 L427.68,130.4 L428.62,130.4 L429.55,130.4 L430.43,130.4 L431.27,130.41 L432.05,130.43 L432.8,130.46 L433.5,130.49 L434.17,130.52 L434.8,130.57 L435.4,130.61 L435.97,130.67 L436.52,130.73 L437.04,130.79 L437.53,130.86 L438.01,130.94 L438.46,131.02 L438.9,131.11 L439.31,131.2 L439.71,131.3 L440.09,131.41 L440.46,131.52 L440.82,131.64 L441.16,131.76 L441.48,131.89 L441.8,132.03 L442.1,132.17 L442.4,132.32 L442.68,132.48 L442.96,132.65 L443.22,132.83 L443.48,133.01 L443.72,133.2 L443.96,133.4 L444.19,133.62 L444.42,133.84 L444.64,134.07 L444.85,134.32 L445.05,134.58 L445.25,134.85 L445.44,135.14 L445.63,135.44 L445.81,135.76 L445.99,136.09 L446.16,136.45 L446.32,136.82 L446.49,137.22 L446.64,137.64 L446.79,138.09 L446.94,138.56 L447.09,139.07 L447.23,139.61 L447.36,140.18 L447.5,140.8 L447.62,141.46 L447.75,142.17 L447.87,142.94 L447.99,143.76 L448.1,144.66 L448.21,145.64 L448.32,146.7 L448.42,147.87 L448.52,149.15 L448.62,150.57 L448.71,152.14 L448.79,153.9 L448.88,155.87 L448.95,158.1 L449.03,160.65 L449.09,163.58 L449.15,166.99 L449.2,171.01 L449.24,175.81 L449.27,181.65 L449.28,188.9 L450.11,188.07 L450.94,187.22 L451.76,186.36 L452.58,185.48 L453.39,184.59 L454.19,183.69 L454.98,182.77 L455.77,181.84 L456.54,180.9 L457.31,179.94 L458.07,178.97 L458.83,177.99 L459.57,176.99 L460.3,175.98 L461.02,174.95 L461.73,173.92 L462.43,172.87 L463.12,171.81 L463.8,170.73 L464.47,169.64 L465.12,168.55 L465.77,167.43 L466.4,166.31 L467.02,165.18 L467.62,164.03 L468.21,162.87 L468.79,161.7 L469.36,160.52 L469.91,159.33 L470.44,158.13 L470.96,156.92 L471.47,155.7 L471.96,154.47 L472.43,153.23 L472.89,151.98 L473.34,150.72 L473.76,149.45 L474.18,148.18 L474.57,146.89 L474.95,145.6 L475.31,144.3 L475.65,143 L475.98,141.69 L476.28,140.37 L476.57,139.04 L476.85,137.71 L477.1,136.38 L477.34,135.04 L477.55,133.69 L477.75,132.34 L477.93,130.99 L478.09,129.63 L478.24,128.27 L478.36,126.91 L478.47,125.55 L478.55,124.18 L478.62,122.81 L478.67,121.44 L478.7,120.07 L478.71,118.7 L478.7,117.33 L478.67,115.96 L478.62,114.59 L478.55,113.22 L478.47,111.85 L478.36,110.49 L478.24,109.13 L478.09,107.77 L477.93,106.41 L477.75,105.06 L477.55,103.71 L477.34,102.36 L477.1,101.02 L476.85,99.69 L476.57,98.36 L476.28,97.03 L475.98,95.71 L475.65,94.4 L475.31,93.1 L474.95,91.8 L474.57,90.51 L474.18,89.22 L473.76,87.95 L473.34,86.68 L472.89,85.42 L472.43,84.17 L471.96,82.93 L471.47,81.7 L470.96,80.48 L470.44,79.27 L469.91,78.07 L469.36,76.88 L468.79,75.7 L468.21,74.53 L467.62,73.37 L467.02,72.22 L466.4,71.09 L465.77,69.97 L465.12,68.85 L464.47,67.76 L463.8,66.67 L463.12,65.59 L462.43,64.53 L461.73,63.48 L461.02,62.45 L460.3,61.42 L459.57,60.41 L458.83,59.41 L458.07,58.43 L457.31,57.46 L456.54,56.5 L455.77,55.56 L454.98,54.63 L454.19,53.71 L453.39,52.81 L452.58,51.92 L451.76,51.04 L450.94,50.18 L450.11,49.33 L449.28,48.5Z" fill="none" stroke="#1b9dd2" stroke-width="1.8" stroke-linejoin="round"/>
<path d="M449.28,48.5 L449.28,107 L330.88,107 L330.88,118.7 L330.88,130.4 L449.28,130.4 L449.28,188.9 L520.32,118.7 L449.28,48.5" fill="none" stroke="#111" stroke-width="1" stroke-dasharray="2,1.1"/>
<path d="M297.2,200.6 H541.5 M307.2,208.6 V35" stroke="#222" stroke-width="1.2" fill="none"/>
<path d="M545.5,200.6 L539.9,197.9 L539.9,203.3Z" fill="#222"/>
<path d="M307.2,31 L304.5,36.6 L309.9,36.6Z" fill="#222"/>
<path d="M319.04,197.8 v5.6 M330.88,197.8 v5.6 M342.72,197.8 v5.6 M354.56,197.8 v5.6 M366.4,197.8 v5.6 M378.24,197.8 v5.6 M390.08,197.8 v5.6 M401.92,197.8 v5.6 M413.76,197.8 v5.6 M425.6,197.8 v5.6 M437.44,197.8 v5.6 M449.28,197.8 v5.6 M461.12,197.8 v5.6 M472.96,197.8 v5.6 M484.8,197.8 v5.6 M496.64,197.8 v5.6 M508.48,197.8 v5.6 M520.32,197.8 v5.6 M532.16,197.8 v5.6 M304.3,188.9 h5.8 M304.3,177.2 h5.8 M304.3,165.5 h5.8 M304.3,153.8 h5.8 M304.3,142.1 h5.8 M304.3,130.4 h5.8 M304.3,118.7 h5.8 M304.3,107 h5.8 M304.3,95.3 h5.8 M304.3,83.6 h5.8 M304.3,71.9 h5.8 M304.3,60.2 h5.8 M304.3,48.5 h5.8" stroke="#222" stroke-width="1" fill="none"/>
<text x="330.88" y="212.8" font-size="9.5" text-anchor="middle">1</text>
<text x="354.56" y="212.8" font-size="9.5" text-anchor="middle">2</text>
<text x="378.24" y="212.8" font-size="9.5" text-anchor="middle">3</text>
<text x="401.92" y="212.8" font-size="9.5" text-anchor="middle">4</text>
<text x="425.6" y="212.8" font-size="9.5" text-anchor="middle">5</text>
<text x="449.28" y="212.8" font-size="9.5" text-anchor="middle">6</text>
<text x="472.96" y="212.8" font-size="9.5" text-anchor="middle">7</text>
<text x="496.64" y="212.8" font-size="9.5" text-anchor="middle">8</text>
<text x="520.32" y="212.8" font-size="9.5" text-anchor="middle">9</text>
<text x="302.1" y="180.3" font-size="9.5" text-anchor="end">1</text>
<text x="302.1" y="156.9" font-size="9.5" text-anchor="end">2</text>
<text x="302.1" y="133.5" font-size="9.5" text-anchor="end">3</text>
<text x="302.1" y="110.1" font-size="9.5" text-anchor="end">4</text>
<text x="302.1" y="86.7" font-size="9.5" text-anchor="end">5</text>
<text x="302.1" y="63.3" font-size="9.5" text-anchor="end">6</text>
<circle cx="342.72" cy="118.7" r="1" fill="#111"/>
<circle cx="354.56" cy="118.7" r="1" fill="#111"/>
<circle cx="366.4" cy="118.7" r="1" fill="#111"/>
<circle cx="378.24" cy="118.7" r="1" fill="#111"/>
<circle cx="390.08" cy="118.7" r="1" fill="#111"/>
<circle cx="401.92" cy="118.7" r="1" fill="#111"/>
<circle cx="413.76" cy="118.7" r="1" fill="#111"/>
<circle cx="425.6" cy="118.7" r="1" fill="#111"/>
<circle cx="437.44" cy="118.7" r="1" fill="#111"/>
<circle cx="449.28" cy="118.7" r="1" fill="#111"/>
<circle cx="461.12" cy="118.7" r="1" fill="#111"/>
<circle cx="449.28" cy="48.5" r="2.1" fill="#e0281c"/>
<circle cx="429.55" cy="107" r="2.4" fill="#e0281c"/>
<circle cx="330.88" cy="112.85" r="2.4" fill="#e0281c"/>
<circle cx="330.88" cy="124.55" r="2.4" fill="#e0281c"/>
<circle cx="429.55" cy="130.4" r="2.4" fill="#e0281c"/>
<circle cx="449.28" cy="188.9" r="2.1" fill="#e0281c"/>
<circle cx="449.28" cy="107" r="2.1" fill="#000"/>
<circle cx="449.28" cy="130.4" r="2.1" fill="#000"/>
<circle cx="330.88" cy="107" r="2.1" fill="#000"/>
<circle cx="330.88" cy="118.7" r="2.1" fill="#000"/>
<circle cx="330.88" cy="130.4" r="2.1" fill="#000"/>
<circle cx="520.32" cy="118.7" r="2.1" fill="#000"/>
<text x="290" y="18.2" font-size="16" font-weight="bold">(b)</text>
<text x="290.3" y="36.8" font-size="15.5" font-style="italic">x<tspan font-size="8" dy="2.9" dx="0.6">2</tspan></text>
<text x="538.4" y="214.6" font-size="15.5" font-style="italic">x<tspan font-size="8" dy="2.8" dx="1.2">1</tspan></text>
<text x="432.8" y="51.2" font-size="14">P<tspan font-size="7.6" dx="0.4" dy="3.0" fill="#222">0</tspan></text>
<text x="454.6" y="49.9" font-size="12.8" font-style="italic">t<tspan font-size="6.2" dx="-0.2" dy="2.8" font-style="normal" fill="#222">0-2</tspan></text>
<text x="467.6" y="51.4" font-size="11">,</text>
<text x="473.6" y="49.9" font-size="12.8" font-style="italic">t<tspan font-size="6.2" dx="-0.2" dy="2.8" font-style="normal" fill="#222">9-11</tspan></text>
<text x="333.2" y="100.7" font-size="14">P<tspan font-size="7.6" dx="0.4" dy="3.0" fill="#222">2</tspan></text>
<text x="314.1" y="121.1" font-size="14">P<tspan font-size="7.6" dx="0.4" dy="3.0" fill="#222">3</tspan></text>
<text x="333.2" y="146.2" font-size="14">P<tspan font-size="7.6" dx="0.4" dy="3.0" fill="#222">4</tspan></text>
<text x="321.2" y="104.1" font-size="12.8" font-style="italic">t<tspan font-size="6.6" dx="-0.2" dy="2.9" font-style="normal" fill="#222">4</tspan></text>
<text x="320.3" y="135.6" font-size="12.8" font-style="italic">t<tspan font-size="7" dx="-0.2" dy="2.8" font-style="normal" fill="#222">5</tspan></text>
<text x="429.2" y="101.9" font-size="12.8" font-style="italic">t<tspan font-size="7" dx="-0.2" dy="2.5" font-style="normal" fill="#222">3</tspan></text>
<text x="428.8" y="141.7" font-size="12.8" font-style="italic">t<tspan font-size="7" dx="-0.2" dy="2.8" font-style="normal" fill="#222">6</tspan></text>
<text x="455.8" y="109" font-size="14">P<tspan font-size="7.2" dx="0.4" dy="3.0" fill="#222">1, w=5</tspan></text>
<text x="455.5" y="138.7" font-size="14">P<tspan font-size="7.2" dx="0.4" dy="3.0" fill="#222">5, w=5</tspan></text>
<text x="524.7" y="122.3" font-size="14">P<tspan font-size="7.4" dx="0.4" dy="3.4" fill="#222">7,w=0.707</tspan></text>
<text x="431.8" y="190.8" font-size="14">P<tspan font-size="7.6" dx="0.4" dy="3.0" fill="#222">6</tspan></text>
<text x="457.4" y="192" font-size="12.8" font-style="italic">t<tspan font-size="6.4" dx="-0.2" dy="2.8" font-style="normal" fill="#222">7-8</tspan></text>
<path d="M29.1,375.3 H245.7 M38.1,384 V248.9" stroke="#222" stroke-width="1.2" fill="none"/>
<path d="M249.7,375.3 L244.1,372.6 L244.1,378Z" fill="#222"/>
<path d="M38.1,244.9 L35.4,250.5 L40.8,250.5Z" fill="#222"/>
<path d="M50.36,373.1 v4.4 M62.62,373.1 v4.4 M74.89,373.1 v4.4 M87.15,373.1 v4.4 M99.41,373.1 v4.4 M111.67,373.1 v4.4 M123.94,373.1 v4.4 M136.2,373.1 v4.4 M148.46,373.1 v4.4 M160.72,373.1 v4.4 M172.99,373.1 v4.4 M185.25,373.1 v4.4 M197.51,373.1 v4.4 M209.77,373.1 v4.4 M222.04,373.1 v4.4 M234.3,373.1 v4.4 M36.1,363.38 h4 M36.1,351.46 h4 M36.1,339.54 h4 M36.1,327.62 h4 M36.1,315.7 h4 M36.1,303.78 h4 M36.1,291.86 h4 M36.1,279.94 h4 M36.1,268.02 h4 M36.1,256.1 h4" stroke="#222" stroke-width="1" fill="none"/>
<text x="62.62" y="384.5" font-size="8" text-anchor="middle">0.5</text>
<text x="87.15" y="384.5" font-size="8" text-anchor="middle">1</text>
<text x="111.67" y="384.5" font-size="8" text-anchor="middle">1.5</text>
<text x="136.2" y="384.5" font-size="8" text-anchor="middle">2</text>
<text x="160.72" y="384.5" font-size="8" text-anchor="middle">2.5</text>
<text x="185.25" y="384.5" font-size="8" text-anchor="middle">3</text>
<text x="209.77" y="384.5" font-size="8" text-anchor="middle">3.5</text>
<text x="234.3" y="384.5" font-size="8" text-anchor="middle">4</text>
<text x="35.5" y="365.98" font-size="8.2" text-anchor="end">0.1</text>
<text x="35.5" y="354.06" font-size="8.2" text-anchor="end">0.2</text>
<text x="35.5" y="342.14" font-size="8.2" text-anchor="end">0.3</text>
<text x="35.5" y="330.22" font-size="8.2" text-anchor="end">0.4</text>
<text x="35.5" y="318.3" font-size="8.2" text-anchor="end">0.5</text>
<text x="35.5" y="306.38" font-size="8.2" text-anchor="end">0.6</text>
<text x="35.5" y="294.46" font-size="8.2" text-anchor="end">0.7</text>
<text x="35.5" y="282.54" font-size="8.2" text-anchor="end">0.8</text>
<text x="35.5" y="270.62" font-size="8.2" text-anchor="end">0.9</text>
<text x="30.5" y="258.7" font-size="8.2" text-anchor="end">1</text>
<path d="M38.1,256.1 L38.59,258.47 L39.08,260.82 L39.57,263.14 L40.06,265.45 L40.55,267.72 L41.04,269.97 L41.53,272.2 L42.02,274.41 L42.51,276.59 L43.01,278.75 L43.5,280.88 L43.99,282.99 L44.48,285.08 L44.97,287.14 L45.46,289.18 L45.95,291.19 L46.44,293.18 L46.93,295.15 L47.42,297.09 L47.91,299.01 L48.4,300.91 L48.89,302.78 L49.38,304.63 L49.87,306.45 L50.36,308.25 L50.85,310.03 L51.34,311.78 L51.83,313.51 L52.32,315.21 L52.81,316.89 L53.31,318.55 L53.8,320.18 L54.29,321.79 L54.78,323.38 L55.27,324.94 L55.76,326.48 L56.25,327.99 L56.74,329.48 L57.23,330.95 L57.72,332.39 L58.21,333.81 L58.7,335.2 L59.19,336.57 L59.68,337.92 L60.17,339.24 L60.66,340.54 L61.15,341.82 L61.64,343.07 L62.13,344.3 L62.62,345.5 L63.12,346.68 L63.61,347.84 L64.1,348.97 L64.59,350.08 L65.08,351.16 L65.57,352.22 L66.06,353.26 L66.55,354.27 L67.04,355.26 L67.53,356.23 L68.02,357.17 L68.51,358.09 L69,358.98 L69.49,359.85 L69.98,360.7 L70.47,361.52 L70.96,362.32 L71.45,363.09 L71.94,363.84 L72.44,364.57 L72.93,365.28 L73.42,365.95 L73.91,366.61 L74.4,367.24 L74.89,367.85 L75.38,368.43 L75.87,368.99 L76.36,369.53 L76.85,370.04 L77.34,370.53 L77.83,371 L78.32,371.44 L78.81,371.86 L79.3,372.25 L79.79,372.62 L80.28,372.96 L80.77,373.29 L81.26,373.58 L81.75,373.86 L82.25,374.11 L82.74,374.33 L83.23,374.54 L83.72,374.72 L84.21,374.87 L84.7,375 L85.19,375.11 L85.68,375.19 L86.17,375.25 L86.66,375.29 L87.15,375.3" fill="none" stroke="#ffc000" stroke-width="1.9" stroke-linejoin="round"/>
<path d="M38.1,375.3 L38.59,372.94 L39.08,370.63 L39.57,368.36 L40.06,366.15 L40.55,363.98 L41.04,361.85 L41.53,359.78 L42.02,357.75 L42.51,355.78 L43.01,353.84 L43.5,351.96 L43.99,350.12 L44.48,348.34 L44.97,346.6 L45.46,344.9 L45.95,343.26 L46.44,341.66 L46.93,340.11 L47.42,338.61 L47.91,337.16 L48.4,335.75 L48.89,334.39 L49.38,333.08 L49.87,331.82 L50.36,330.6 L50.85,329.43 L51.34,328.31 L51.83,327.24 L52.32,326.21 L52.81,325.24 L53.31,324.31 L53.8,323.42 L54.29,322.59 L54.78,321.8 L55.27,321.06 L55.76,320.37 L56.25,319.73 L56.74,319.13 L57.23,318.58 L57.72,318.08 L58.21,317.63 L58.7,317.23 L59.19,316.87 L59.68,316.56 L60.17,316.3 L60.66,316.08 L61.15,315.91 L61.64,315.8 L62.13,315.72 L62.62,315.7 L63.12,315.72 L63.61,315.8 L64.1,315.91 L64.59,316.08 L65.08,316.3 L65.57,316.56 L66.06,316.87 L66.55,317.23 L67.04,317.63 L67.53,318.08 L68.02,318.58 L68.51,319.13 L69,319.73 L69.49,320.37 L69.98,321.06 L70.47,321.8 L70.96,322.59 L71.45,323.42 L71.94,324.31 L72.44,325.24 L72.93,326.21 L73.42,327.24 L73.91,328.31 L74.4,329.43 L74.89,330.6 L75.38,331.82 L75.87,333.08 L76.36,334.39 L76.85,335.75 L77.34,337.16 L77.83,338.61 L78.32,340.11 L78.81,341.66 L79.3,343.26 L79.79,344.9 L80.28,346.6 L80.77,348.34 L81.26,350.12 L81.75,351.96 L82.25,353.84 L82.74,355.78 L83.23,357.75 L83.72,359.78 L84.21,361.85 L84.7,363.98 L85.19,366.15 L85.68,368.36 L86.17,370.63 L86.66,372.94 L87.15,375.3" fill="none" stroke="#fbb16c" stroke-width="1.9" stroke-linejoin="round"/>
<path d="M38.1,375.3 L38.59,375.29 L39.08,375.25 L39.57,375.19 L40.06,375.11 L40.55,375 L41.04,374.87 L41.53,374.72 L42.02,374.54 L42.51,374.33 L43.01,374.11 L43.5,373.86 L43.99,373.58 L44.48,373.29 L44.97,372.96 L45.46,372.62 L45.95,372.25 L46.44,371.86 L46.93,371.44 L47.42,371 L47.91,370.53 L48.4,370.04 L48.89,369.53 L49.38,368.99 L49.87,368.43 L50.36,367.85 L50.85,367.24 L51.34,366.61 L51.83,365.95 L52.32,365.28 L52.81,364.57 L53.31,363.84 L53.8,363.09 L54.29,362.32 L54.78,361.52 L55.27,360.7 L55.76,359.85 L56.25,358.98 L56.74,358.09 L57.23,357.17 L57.72,356.23 L58.21,355.26 L58.7,354.27 L59.19,353.26 L59.68,352.22 L60.17,351.16 L60.66,350.08 L61.15,348.97 L61.64,347.84 L62.13,346.68 L62.62,345.5 L63.12,344.3 L63.61,343.07 L64.1,341.82 L64.59,340.54 L65.08,339.24 L65.57,337.92 L66.06,336.57 L66.55,335.2 L67.04,333.81 L67.53,332.39 L68.02,330.95 L68.51,329.48 L69,327.99 L69.49,326.48 L69.98,324.94 L70.47,323.38 L70.96,321.79 L71.45,320.18 L71.94,318.55 L72.44,316.89 L72.93,315.21 L73.42,313.51 L73.91,311.78 L74.4,310.03 L74.89,308.25 L75.38,306.45 L75.87,304.63 L76.36,302.78 L76.85,300.91 L77.34,299.01 L77.83,297.09 L78.32,295.15 L78.81,293.18 L79.3,291.19 L79.79,289.18 L80.28,287.14 L80.77,285.08 L81.26,282.99 L81.75,280.88 L82.25,278.75 L82.74,276.59 L83.23,274.41 L83.72,272.2 L84.21,269.97 L84.7,267.72 L85.19,265.45 L85.68,263.14 L86.17,260.82 L86.66,258.47 L87.15,256.1 L87.64,258.47 L88.13,260.82 L88.62,263.14 L89.11,265.45 L89.6,267.72 L90.09,269.97 L90.58,272.2 L91.07,274.41 L91.56,276.59 L92.06,278.75 L92.55,280.88 L93.04,282.99 L93.53,285.08 L94.02,287.14 L94.51,289.18 L95,291.19 L95.49,293.18 L95.98,295.15 L96.47,297.09 L96.96,299.01 L97.45,300.91 L97.94,302.78 L98.43,304.63 L98.92,306.45 L99.41,308.25 L99.9,310.03 L100.39,311.78 L100.88,313.51 L101.37,315.21 L101.87,316.89 L102.36,318.55 L102.85,320.18 L103.34,321.79 L103.83,323.38 L104.32,324.94 L104.81,326.48 L105.3,327.99 L105.79,329.48 L106.28,330.95 L106.77,332.39 L107.26,333.81 L107.75,335.2 L108.24,336.57 L108.73,337.92 L109.22,339.24 L109.71,340.54 L110.2,341.82 L110.69,343.07 L111.18,344.3 L111.67,345.5 L112.17,346.68 L112.66,347.84 L113.15,348.97 L113.64,350.08 L114.13,351.16 L114.62,352.22 L115.11,353.26 L115.6,354.27 L116.09,355.26 L116.58,356.23 L117.07,357.17 L117.56,358.09 L118.05,358.98 L118.54,359.85 L119.03,360.7 L119.52,361.52 L120.01,362.32 L120.5,363.09 L120.99,363.84 L121.48,364.57 L121.98,365.28 L122.47,365.95 L122.96,366.61 L123.45,367.24 L123.94,367.85 L124.43,368.43 L124.92,368.99 L125.41,369.53 L125.9,370.04 L126.39,370.53 L126.88,371 L127.37,371.44 L127.86,371.86 L128.35,372.25 L128.84,372.62 L129.33,372.96 L129.82,373.29 L130.31,373.58 L130.8,373.86 L131.3,374.11 L131.79,374.33 L132.28,374.54 L132.77,374.72 L133.26,374.87 L133.75,375 L134.24,375.11 L134.73,375.19 L135.22,375.25 L135.71,375.29 L136.2,375.3" fill="none" stroke="#e8103c" stroke-width="1.9" stroke-linejoin="round"/>
<path d="M87.15,375.3 L87.64,372.94 L88.13,370.63 L88.62,368.36 L89.11,366.15 L89.6,363.98 L90.09,361.85 L90.58,359.78 L91.07,357.75 L91.56,355.78 L92.06,353.84 L92.55,351.96 L93.04,350.12 L93.53,348.34 L94.02,346.6 L94.51,344.9 L95,343.26 L95.49,341.66 L95.98,340.11 L96.47,338.61 L96.96,337.16 L97.45,335.75 L97.94,334.39 L98.43,333.08 L98.92,331.82 L99.41,330.6 L99.9,329.43 L100.39,328.31 L100.88,327.24 L101.37,326.21 L101.87,325.24 L102.36,324.31 L102.85,323.42 L103.34,322.59 L103.83,321.8 L104.32,321.06 L104.81,320.37 L105.3,319.73 L105.79,319.13 L106.28,318.58 L106.77,318.08 L107.26,317.63 L107.75,317.23 L108.24,316.87 L108.73,316.56 L109.22,316.3 L109.71,316.08 L110.2,315.91 L110.69,315.8 L111.18,315.72 L111.67,315.7 L112.17,315.72 L112.66,315.8 L113.15,315.91 L113.64,316.08 L114.13,316.3 L114.62,316.56 L115.11,316.87 L115.6,317.23 L116.09,317.63 L116.58,318.08 L117.07,318.58 L117.56,319.13 L118.05,319.73 L118.54,320.37 L119.03,321.06 L119.52,321.8 L120.01,322.59 L120.5,323.42 L120.99,324.31 L121.48,325.24 L121.98,326.21 L122.47,327.24 L122.96,328.31 L123.45,329.43 L123.94,330.6 L124.43,331.82 L124.92,333.08 L125.41,334.39 L125.9,335.75 L126.39,337.16 L126.88,338.61 L127.37,340.11 L127.86,341.66 L128.35,343.26 L128.84,344.9 L129.33,346.6 L129.82,348.34 L130.31,350.12 L130.8,351.96 L131.3,353.84 L131.79,355.78 L132.28,357.75 L132.77,359.78 L133.26,361.85 L133.75,363.98 L134.24,366.15 L134.73,368.36 L135.22,370.63 L135.71,372.94 L136.2,375.3" fill="none" stroke="#8a2fc2" stroke-width="1.9" stroke-linejoin="round"/>
<path d="M87.15,375.3 L87.64,375.29 L88.13,375.25 L88.62,375.19 L89.11,375.11 L89.6,375 L90.09,374.87 L90.58,374.72 L91.07,374.54 L91.56,374.33 L92.06,374.11 L92.55,373.86 L93.04,373.58 L93.53,373.29 L94.02,372.96 L94.51,372.62 L95,372.25 L95.49,371.86 L95.98,371.44 L96.47,371 L96.96,370.53 L97.45,370.04 L97.94,369.53 L98.43,368.99 L98.92,368.43 L99.41,367.85 L99.9,367.24 L100.39,366.61 L100.88,365.95 L101.37,365.28 L101.87,364.57 L102.36,363.84 L102.85,363.09 L103.34,362.32 L103.83,361.52 L104.32,360.7 L104.81,359.85 L105.3,358.98 L105.79,358.09 L106.28,357.17 L106.77,356.23 L107.26,355.26 L107.75,354.27 L108.24,353.26 L108.73,352.22 L109.22,351.16 L109.71,350.08 L110.2,348.97 L110.69,347.84 L111.18,346.68 L111.67,345.5 L112.17,344.3 L112.66,343.07 L113.15,341.82 L113.64,340.54 L114.13,339.24 L114.62,337.92 L115.11,336.57 L115.6,335.2 L116.09,333.81 L116.58,332.39 L117.07,330.95 L117.56,329.48 L118.05,327.99 L118.54,326.48 L119.03,324.94 L119.52,323.38 L120.01,321.79 L120.5,320.18 L120.99,318.55 L121.48,316.89 L121.98,315.21 L122.47,313.51 L122.96,311.78 L123.45,310.03 L123.94,308.25 L124.43,306.45 L124.92,304.63 L125.41,302.78 L125.9,300.91 L126.39,299.01 L126.88,297.09 L127.37,295.15 L127.86,293.18 L128.35,291.19 L128.84,289.18 L129.33,287.14 L129.82,285.08 L130.31,282.99 L130.8,280.88 L131.3,278.75 L131.79,276.59 L132.28,274.41 L132.77,272.2 L133.26,269.97 L133.75,267.72 L134.24,265.45 L134.73,263.14 L135.22,260.82 L135.71,258.47 L136.2,256.1 L136.69,258.47 L137.18,260.82 L137.67,263.14 L138.16,265.45 L138.65,267.72 L139.14,269.97 L139.63,272.2 L140.12,274.41 L140.61,276.59 L141.1,278.75 L141.6,280.88 L142.09,282.99 L142.58,285.08 L143.07,287.14 L143.56,289.18 L144.05,291.19 L144.54,293.18 L145.03,295.15 L145.52,297.09 L146.01,299.01 L146.5,300.91 L146.99,302.78 L147.48,304.63 L147.97,306.45 L148.46,308.25 L148.95,310.03 L149.44,311.78 L149.93,313.51 L150.42,315.21 L150.92,316.89 L151.41,318.55 L151.9,320.18 L152.39,321.79 L152.88,323.38 L153.37,324.94 L153.86,326.48 L154.35,327.99 L154.84,329.48 L155.33,330.95 L155.82,332.39 L156.31,333.81 L156.8,335.2 L157.29,336.57 L157.78,337.92 L158.27,339.24 L158.76,340.54 L159.25,341.82 L159.74,343.07 L160.23,344.3 L160.72,345.5 L161.22,346.68 L161.71,347.84 L162.2,348.97 L162.69,350.08 L163.18,351.16 L163.67,352.22 L164.16,353.26 L164.65,354.27 L165.14,355.26 L165.63,356.23 L166.12,357.17 L166.61,358.09 L167.1,358.98 L167.59,359.85 L168.08,360.7 L168.57,361.52 L169.06,362.32 L169.55,363.09 L170.04,363.84 L170.53,364.57 L171.03,365.28 L171.52,365.95 L172.01,366.61 L172.5,367.24 L172.99,367.85 L173.48,368.43 L173.97,368.99 L174.46,369.53 L174.95,370.04 L175.44,370.53 L175.93,371 L176.42,371.44 L176.91,371.86 L177.4,372.25 L177.89,372.62 L178.38,372.96 L178.87,373.29 L179.36,373.58 L179.85,373.86 L180.34,374.11 L180.84,374.33 L181.33,374.54 L181.82,374.72 L182.31,374.87 L182.8,375 L183.29,375.11 L183.78,375.19 L184.27,375.25 L184.76,375.29 L185.25,375.3" fill="none" stroke="#10a0d8" stroke-width="1.9" stroke-linejoin="round"/>
<path d="M136.2,375.3 L136.69,372.94 L137.18,370.63 L137.67,368.36 L138.16,366.15 L138.65,363.98 L139.14,361.85 L139.63,359.78 L140.12,357.75 L140.61,355.78 L141.1,353.84 L141.6,351.96 L142.09,350.12 L142.58,348.34 L143.07,346.6 L143.56,344.9 L144.05,343.26 L144.54,341.66 L145.03,340.11 L145.52,338.61 L146.01,337.16 L146.5,335.75 L146.99,334.39 L147.48,333.08 L147.97,331.82 L148.46,330.6 L148.95,329.43 L149.44,328.31 L149.93,327.24 L150.42,326.21 L150.92,325.24 L151.41,324.31 L151.9,323.42 L152.39,322.59 L152.88,321.8 L153.37,321.06 L153.86,320.37 L154.35,319.73 L154.84,319.13 L155.33,318.58 L155.82,318.08 L156.31,317.63 L156.8,317.23 L157.29,316.87 L157.78,316.56 L158.27,316.3 L158.76,316.08 L159.25,315.91 L159.74,315.8 L160.23,315.72 L160.72,315.7 L161.22,315.72 L161.71,315.8 L162.2,315.91 L162.69,316.08 L163.18,316.3 L163.67,316.56 L164.16,316.87 L164.65,317.23 L165.14,317.63 L165.63,318.08 L166.12,318.58 L166.61,319.13 L167.1,319.73 L167.59,320.37 L168.08,321.06 L168.57,321.8 L169.06,322.59 L169.55,323.42 L170.04,324.31 L170.53,325.24 L171.03,326.21 L171.52,327.24 L172.01,328.31 L172.5,329.43 L172.99,330.6 L173.48,331.82 L173.97,333.08 L174.46,334.39 L174.95,335.75 L175.44,337.16 L175.93,338.61 L176.42,340.11 L176.91,341.66 L177.4,343.26 L177.89,344.9 L178.38,346.6 L178.87,348.34 L179.36,350.12 L179.85,351.96 L180.34,353.84 L180.84,355.78 L181.33,357.75 L181.82,359.78 L182.31,361.85 L182.8,363.98 L183.29,366.15 L183.78,368.36 L184.27,370.63 L184.76,372.94 L185.25,375.3" fill="none" stroke="#b9e3f9" stroke-width="1.9" stroke-linejoin="round"/>
<path d="M136.2,375.3 L136.69,375.29 L137.18,375.25 L137.67,375.19 L138.16,375.11 L138.65,375 L139.14,374.87 L139.63,374.72 L140.12,374.54 L140.61,374.33 L141.1,374.11 L141.6,373.86 L142.09,373.58 L142.58,373.29 L143.07,372.96 L143.56,372.62 L144.05,372.25 L144.54,371.86 L145.03,371.44 L145.52,371 L146.01,370.53 L146.5,370.04 L146.99,369.53 L147.48,368.99 L147.97,368.43 L148.46,367.85 L148.95,367.24 L149.44,366.61 L149.93,365.95 L150.42,365.28 L150.92,364.57 L151.41,363.84 L151.9,363.09 L152.39,362.32 L152.88,361.52 L153.37,360.7 L153.86,359.85 L154.35,358.98 L154.84,358.09 L155.33,357.17 L155.82,356.23 L156.31,355.26 L156.8,354.27 L157.29,353.26 L157.78,352.22 L158.27,351.16 L158.76,350.08 L159.25,348.97 L159.74,347.84 L160.23,346.68 L160.72,345.5 L161.22,344.3 L161.71,343.07 L162.2,341.82 L162.69,340.54 L163.18,339.24 L163.67,337.92 L164.16,336.57 L164.65,335.2 L165.14,333.81 L165.63,332.39 L166.12,330.95 L166.61,329.48 L167.1,327.99 L167.59,326.48 L168.08,324.94 L168.57,323.38 L169.06,321.79 L169.55,320.18 L170.04,318.55 L170.53,316.89 L171.03,315.21 L171.52,313.51 L172.01,311.78 L172.5,310.03 L172.99,308.25 L173.48,306.45 L173.97,304.63 L174.46,302.78 L174.95,300.91 L175.44,299.01 L175.93,297.09 L176.42,295.15 L176.91,293.18 L177.4,291.19 L177.89,289.18 L178.38,287.14 L178.87,285.08 L179.36,282.99 L179.85,280.88 L180.34,278.75 L180.84,276.59 L181.33,274.41 L181.82,272.2 L182.31,269.97 L182.8,267.72 L183.29,265.45 L183.78,263.14 L184.27,260.82 L184.76,258.47 L185.25,256.1 L185.74,258.47 L186.23,260.82 L186.72,263.14 L187.21,265.45 L187.7,267.72 L188.19,269.97 L188.68,272.2 L189.17,274.41 L189.66,276.59 L190.16,278.75 L190.65,280.88 L191.14,282.99 L191.63,285.08 L192.12,287.14 L192.61,289.18 L193.1,291.19 L193.59,293.18 L194.08,295.15 L194.57,297.09 L195.06,299.01 L195.55,300.91 L196.04,302.78 L196.53,304.63 L197.02,306.45 L197.51,308.25 L198,310.03 L198.49,311.78 L198.98,313.51 L199.47,315.21 L199.97,316.89 L200.46,318.55 L200.95,320.18 L201.44,321.79 L201.93,323.38 L202.42,324.94 L202.91,326.48 L203.4,327.99 L203.89,329.48 L204.38,330.95 L204.87,332.39 L205.36,333.81 L205.85,335.2 L206.34,336.57 L206.83,337.92 L207.32,339.24 L207.81,340.54 L208.3,341.82 L208.79,343.07 L209.28,344.3 L209.77,345.5 L210.27,346.68 L210.76,347.84 L211.25,348.97 L211.74,350.08 L212.23,351.16 L212.72,352.22 L213.21,353.26 L213.7,354.27 L214.19,355.26 L214.68,356.23 L215.17,357.17 L215.66,358.09 L216.15,358.98 L216.64,359.85 L217.13,360.7 L217.62,361.52 L218.11,362.32 L218.6,363.09 L219.09,363.84 L219.58,364.57 L220.08,365.28 L220.57,365.95 L221.06,366.61 L221.55,367.24 L222.04,367.85 L222.53,368.43 L223.02,368.99 L223.51,369.53 L224,370.04 L224.49,370.53 L224.98,371 L225.47,371.44 L225.96,371.86 L226.45,372.25 L226.94,372.62 L227.43,372.96 L227.92,373.29 L228.41,373.58 L228.9,373.86 L229.39,374.11 L229.89,374.33 L230.38,374.54 L230.87,374.72 L231.36,374.87 L231.85,375 L232.34,375.11 L232.83,375.19 L233.32,375.25 L233.81,375.29 L234.3,375.3" fill="none" stroke="#d6f6d2" stroke-width="1.9" stroke-linejoin="round"/>
<path d="M185.25,375.3 L185.74,372.94 L186.23,370.63 L186.72,368.36 L187.21,366.15 L187.7,363.98 L188.19,361.85 L188.68,359.78 L189.17,357.75 L189.66,355.78 L190.16,353.84 L190.65,351.96 L191.14,350.12 L191.63,348.34 L192.12,346.6 L192.61,344.9 L193.1,343.26 L193.59,341.66 L194.08,340.11 L194.57,338.61 L195.06,337.16 L195.55,335.75 L196.04,334.39 L196.53,333.08 L197.02,331.82 L197.51,330.6 L198,329.43 L198.49,328.31 L198.98,327.24 L199.47,326.21 L199.97,325.24 L200.46,324.31 L200.95,323.42 L201.44,322.59 L201.93,321.8 L202.42,321.06 L202.91,320.37 L203.4,319.73 L203.89,319.13 L204.38,318.58 L204.87,318.08 L205.36,317.63 L205.85,317.23 L206.34,316.87 L206.83,316.56 L207.32,316.3 L207.81,316.08 L208.3,315.91 L208.79,315.8 L209.28,315.72 L209.77,315.7 L210.27,315.72 L210.76,315.8 L211.25,315.91 L211.74,316.08 L212.23,316.3 L212.72,316.56 L213.21,316.87 L213.7,317.23 L214.19,317.63 L214.68,318.08 L215.17,318.58 L215.66,319.13 L216.15,319.73 L216.64,320.37 L217.13,321.06 L217.62,321.8 L218.11,322.59 L218.6,323.42 L219.09,324.31 L219.58,325.24 L220.08,326.21 L220.57,327.24 L221.06,328.31 L221.55,329.43 L222.04,330.6 L222.53,331.82 L223.02,333.08 L223.51,334.39 L224,335.75 L224.49,337.16 L224.98,338.61 L225.47,340.11 L225.96,341.66 L226.45,343.26 L226.94,344.9 L227.43,346.6 L227.92,348.34 L228.41,350.12 L228.9,351.96 L229.39,353.84 L229.89,355.78 L230.38,357.75 L230.87,359.78 L231.36,361.85 L231.85,363.98 L232.34,366.15 L232.83,368.36 L233.32,370.63 L233.81,372.94 L234.3,375.3" fill="none" stroke="#4fa08c" stroke-width="1.9" stroke-linejoin="round"/>
<path d="M185.25,375.3 L185.74,375.29 L186.23,375.25 L186.72,375.19 L187.21,375.11 L187.7,375 L188.19,374.87 L188.68,374.72 L189.17,374.54 L189.66,374.33 L190.16,374.11 L190.65,373.86 L191.14,373.58 L191.63,373.29 L192.12,372.96 L192.61,372.62 L193.1,372.25 L193.59,371.86 L194.08,371.44 L194.57,371 L195.06,370.53 L195.55,370.04 L196.04,369.53 L196.53,368.99 L197.02,368.43 L197.51,367.85 L198,367.24 L198.49,366.61 L198.98,365.95 L199.47,365.28 L199.97,364.57 L200.46,363.84 L200.95,363.09 L201.44,362.32 L201.93,361.52 L202.42,360.7 L202.91,359.85 L203.4,358.98 L203.89,358.09 L204.38,357.17 L204.87,356.23 L205.36,355.26 L205.85,354.27 L206.34,353.26 L206.83,352.22 L207.32,351.16 L207.81,350.08 L208.3,348.97 L208.79,347.84 L209.28,346.68 L209.77,345.5 L210.27,344.3 L210.76,343.07 L211.25,341.82 L211.74,340.54 L212.23,339.24 L212.72,337.92 L213.21,336.57 L213.7,335.2 L214.19,333.81 L214.68,332.39 L215.17,330.95 L215.66,329.48 L216.15,327.99 L216.64,326.48 L217.13,324.94 L217.62,323.38 L218.11,321.79 L218.6,320.18 L219.09,318.55 L219.58,316.89 L220.08,315.21 L220.57,313.51 L221.06,311.78 L221.55,310.03 L222.04,308.25 L222.53,306.45 L223.02,304.63 L223.51,302.78 L224,300.91 L224.49,299.01 L224.98,297.09 L225.47,295.15 L225.96,293.18 L226.45,291.19 L226.94,289.18 L227.43,287.14 L227.92,285.08 L228.41,282.99 L228.9,280.88 L229.39,278.75 L229.89,276.59 L230.38,274.41 L230.87,272.2 L231.36,269.97 L231.85,267.72 L232.34,265.45 L232.83,263.14 L233.32,260.82 L233.81,258.47 L234.3,256.1" fill="none" stroke="#000000" stroke-width="1.9" stroke-linejoin="round"/>
<path d="M317.9,375.3 H534.5 M326.9,384 V248.9" stroke="#222" stroke-width="1.2" fill="none"/>
<path d="M538.5,375.3 L532.9,372.6 L532.9,378Z" fill="#222"/>
<path d="M326.9,244.9 L324.2,250.5 L329.6,250.5Z" fill="#222"/>
<path d="M339.17,373.1 v4.4 M351.44,373.1 v4.4 M363.71,373.1 v4.4 M375.98,373.1 v4.4 M388.25,373.1 v4.4 M400.52,373.1 v4.4 M412.79,373.1 v4.4 M425.06,373.1 v4.4 M437.33,373.1 v4.4 M449.6,373.1 v4.4 M461.87,373.1 v4.4 M474.14,373.1 v4.4 M486.41,373.1 v4.4 M498.68,373.1 v4.4 M510.95,373.1 v4.4 M523.22,373.1 v4.4 M324.9,363.38 h4 M324.9,351.46 h4 M324.9,339.54 h4 M324.9,327.62 h4 M324.9,315.7 h4 M324.9,303.78 h4 M324.9,291.86 h4 M324.9,279.94 h4 M324.9,268.02 h4 M324.9,256.1 h4" stroke="#222" stroke-width="1" fill="none"/>
<text x="351.44" y="384.5" font-size="8" text-anchor="middle">0.5</text>
<text x="375.98" y="384.5" font-size="8" text-anchor="middle">1</text>
<text x="400.52" y="384.5" font-size="8" text-anchor="middle">1.5</text>
<text x="425.06" y="384.5" font-size="8" text-anchor="middle">2</text>
<text x="449.6" y="384.5" font-size="8" text-anchor="middle">2.5</text>
<text x="474.14" y="384.5" font-size="8" text-anchor="middle">3</text>
<text x="498.68" y="384.5" font-size="8" text-anchor="middle">3.5</text>
<text x="523.22" y="384.5" font-size="8" text-anchor="middle">4</text>
<text x="324.3" y="365.98" font-size="8.2" text-anchor="end">0.1</text>
<text x="324.3" y="354.06" font-size="8.2" text-anchor="end">0.2</text>
<text x="324.3" y="342.14" font-size="8.2" text-anchor="end">0.3</text>
<text x="324.3" y="330.22" font-size="8.2" text-anchor="end">0.4</text>
<text x="324.3" y="318.3" font-size="8.2" text-anchor="end">0.5</text>
<text x="324.3" y="306.38" font-size="8.2" text-anchor="end">0.6</text>
<text x="324.3" y="294.46" font-size="8.2" text-anchor="end">0.7</text>
<text x="324.3" y="282.54" font-size="8.2" text-anchor="end">0.8</text>
<text x="324.3" y="270.62" font-size="8.2" text-anchor="end">0.9</text>
<text x="319.3" y="258.7" font-size="8.2" text-anchor="end">1</text>
<path d="M326.9,256.1 L327.39,260.04 L327.88,263.91 L328.37,267.72 L328.86,271.46 L329.35,275.14 L329.84,278.75 L330.34,282.29 L330.83,285.77 L331.32,289.18 L331.81,292.52 L332.3,295.8 L332.79,299.01 L333.28,302.16 L333.77,305.24 L334.26,308.25 L334.75,311.2 L335.24,314.08 L335.73,316.89 L336.23,319.64 L336.72,322.32 L337.21,324.94 L337.7,327.49 L338.19,329.97 L338.68,332.39 L339.17,334.74 L339.66,337.02 L340.15,339.24 L340.64,341.39 L341.13,343.48 L341.62,345.5 L342.11,347.45 L342.61,349.34 L343.1,351.16 L343.59,352.92 L344.08,354.61 L344.57,356.23 L345.06,357.78 L345.55,359.27 L346.04,360.7 L346.53,362.06 L347.02,363.35 L347.51,364.57 L348,365.73 L348.5,366.82 L348.99,367.85 L349.48,368.81 L349.97,369.7 L350.46,370.53 L350.95,371.29 L351.44,371.99 L351.93,372.62 L352.42,373.18 L352.91,373.68 L353.4,374.11 L353.89,374.47 L354.38,374.77 L354.88,375 L355.37,375.17 L355.86,375.27 L356.35,375.3" fill="none" stroke="#ffc000" stroke-width="1.9" stroke-linejoin="round"/>
<path d="M326.9,375.3 L327.39,371.38 L327.88,367.55 L328.37,363.83 L328.86,360.2 L329.35,356.68 L329.84,353.25 L330.34,349.92 L330.83,346.69 L331.32,343.56 L331.81,340.53 L332.3,337.6 L332.79,334.77 L333.28,332.04 L333.77,329.41 L334.26,326.88 L334.75,324.44 L335.24,322.11 L335.73,319.87 L336.23,317.74 L336.72,315.7 L337.21,313.76 L337.7,311.93 L338.19,310.19 L338.68,308.55 L339.17,307.01 L339.66,305.57 L340.15,304.23 L340.64,302.99 L341.13,301.84 L341.62,300.8 L342.11,299.86 L342.61,299.01 L343.1,298.27 L343.59,297.62 L344.08,297.07 L344.57,296.63 L345.06,296.28 L345.55,296.03 L346.04,295.88 L346.53,295.83 L347.02,295.88 L347.51,296.03 L348,296.28 L348.5,296.63 L348.99,297.07 L349.48,297.62 L349.97,298.27 L350.46,299.01 L350.95,299.86 L351.44,300.8 L351.93,301.84 L352.42,302.99 L352.91,304.23 L353.4,305.57 L353.89,307.01 L354.38,308.55 L354.88,310.19 L355.37,311.93 L355.86,313.76 L356.35,315.7 L356.84,317.67 L357.33,319.61 L357.82,321.51 L358.31,323.38 L358.8,325.22 L359.29,327.02 L359.78,328.8 L360.27,330.53 L360.77,332.24 L361.26,333.91 L361.75,335.55 L362.24,337.16 L362.73,338.73 L363.22,340.27 L363.71,341.78 L364.2,343.25 L364.69,344.69 L365.18,346.1 L365.67,347.47 L366.16,348.81 L366.65,350.12 L367.15,351.39 L367.64,352.64 L368.13,353.84 L368.62,355.02 L369.11,356.16 L369.6,357.27 L370.09,358.35 L370.58,359.39 L371.07,360.4 L371.56,361.38 L372.05,362.32 L372.54,363.23 L373.04,364.11 L373.53,364.95 L374.02,365.76 L374.51,366.54 L375,367.29 L375.49,368 L375.98,368.68 L376.47,369.32 L376.96,369.94 L377.45,370.52 L377.94,371.06 L378.43,371.57 L378.92,372.06 L379.42,372.5 L379.91,372.92 L380.4,373.3 L380.89,373.64 L381.38,373.96 L381.87,374.24 L382.36,374.49 L382.85,374.7 L383.34,374.89 L383.83,375.04 L384.32,375.15 L384.81,375.23 L385.31,375.28 L385.8,375.3" fill="none" stroke="#fbb16c" stroke-width="1.9" stroke-linejoin="round"/>
<path d="M326.9,375.3 L327.39,375.28 L327.88,375.23 L328.37,375.15 L328.86,375.04 L329.35,374.89 L329.84,374.7 L330.34,374.49 L330.83,374.24 L331.32,373.96 L331.81,373.64 L332.3,373.3 L332.79,372.92 L333.28,372.5 L333.77,372.06 L334.26,371.57 L334.75,371.06 L335.24,370.52 L335.73,369.94 L336.23,369.32 L336.72,368.68 L337.21,368 L337.7,367.29 L338.19,366.54 L338.68,365.76 L339.17,364.95 L339.66,364.11 L340.15,363.23 L340.64,362.32 L341.13,361.38 L341.62,360.4 L342.11,359.39 L342.61,358.35 L343.1,357.27 L343.59,356.16 L344.08,355.02 L344.57,353.84 L345.06,352.64 L345.55,351.39 L346.04,350.12 L346.53,348.81 L347.02,347.47 L347.51,346.1 L348,344.69 L348.5,343.25 L348.99,341.78 L349.48,340.27 L349.97,338.73 L350.46,337.16 L350.95,335.55 L351.44,333.91 L351.93,332.24 L352.42,330.53 L352.91,328.8 L353.4,327.02 L353.89,325.22 L354.38,323.38 L354.88,321.51 L355.37,319.61 L355.86,317.67 L356.35,315.7 L356.84,313.75 L357.33,311.86 L357.82,310.04 L358.31,308.28 L358.8,306.59 L359.29,304.97 L359.78,303.42 L360.27,301.93 L360.77,300.5 L361.26,299.14 L361.75,297.85 L362.24,296.63 L362.73,295.47 L363.22,294.38 L363.71,293.35 L364.2,292.39 L364.69,291.5 L365.18,290.67 L365.67,289.91 L366.16,289.21 L366.65,288.58 L367.15,288.02 L367.64,287.52 L368.13,287.09 L368.62,286.73 L369.11,286.43 L369.6,286.2 L370.09,286.03 L370.58,285.93 L371.07,285.9 L371.56,285.93 L372.05,286.03 L372.54,286.2 L373.04,286.43 L373.53,286.73 L374.02,287.09 L374.51,287.52 L375,288.02 L375.49,288.58 L375.98,289.21 L376.47,289.91 L376.96,290.67 L377.45,291.5 L377.94,292.39 L378.43,293.35 L378.92,294.38 L379.42,295.47 L379.91,296.63 L380.4,297.85 L380.89,299.14 L381.38,300.5 L381.87,301.93 L382.36,303.42 L382.85,304.97 L383.34,306.59 L383.83,308.28 L384.32,310.04 L384.81,311.86 L385.31,313.75 L385.8,315.7 L386.29,317.67 L386.78,319.61 L387.27,321.51 L387.76,323.38 L388.25,325.22 L388.74,327.02 L389.23,328.8 L389.72,330.53 L390.21,332.24 L390.7,333.91 L391.19,335.55 L391.69,337.16 L392.18,338.73 L392.67,340.27 L393.16,341.78 L393.65,343.25 L394.14,344.69 L394.63,346.1 L395.12,347.47 L395.61,348.81 L396.1,350.12 L396.59,351.39 L397.08,352.64 L397.58,353.84 L398.07,355.02 L398.56,356.16 L399.05,357.27 L399.54,358.35 L400.03,359.39 L400.52,360.4 L401.01,361.38 L401.5,362.32 L401.99,363.23 L402.48,364.11 L402.97,364.95 L403.46,365.76 L403.96,366.54 L404.45,367.29 L404.94,368 L405.43,368.68 L405.92,369.32 L406.41,369.94 L406.9,370.52 L407.39,371.06 L407.88,371.58 L408.37,372.06 L408.86,372.5 L409.35,372.92 L409.85,373.3 L410.34,373.64 L410.83,373.96 L411.32,374.24 L411.81,374.49 L412.3,374.7 L412.79,374.89 L413.28,375.04 L413.77,375.15 L414.26,375.23 L414.75,375.28 L415.24,375.3" fill="none" stroke="#e8103c" stroke-width="1.9" stroke-linejoin="round"/>
<path d="M356.35,375.3 L356.84,375.28 L357.33,375.23 L357.82,375.15 L358.31,375.04 L358.8,374.89 L359.29,374.7 L359.78,374.49 L360.27,374.24 L360.77,373.96 L361.26,373.64 L361.75,373.3 L362.24,372.92 L362.73,372.5 L363.22,372.06 L363.71,371.57 L364.2,371.06 L364.69,370.52 L365.18,369.94 L365.67,369.32 L366.16,368.68 L366.65,368 L367.15,367.29 L367.64,366.54 L368.13,365.76 L368.62,364.95 L369.11,364.11 L369.6,363.23 L370.09,362.32 L370.58,361.38 L371.07,360.4 L371.56,359.39 L372.05,358.35 L372.54,357.27 L373.04,356.16 L373.53,355.02 L374.02,353.84 L374.51,352.64 L375,351.39 L375.49,350.12 L375.98,348.81 L376.47,347.47 L376.96,346.1 L377.45,344.69 L377.94,343.25 L378.43,341.77 L378.92,340.27 L379.42,338.73 L379.91,337.16 L380.4,335.55 L380.89,333.91 L381.38,332.24 L381.87,330.53 L382.36,328.8 L382.85,327.02 L383.34,325.22 L383.83,323.38 L384.32,321.51 L384.81,319.61 L385.31,317.67 L385.8,315.7 L386.29,313.75 L386.78,311.86 L387.27,310.04 L387.76,308.28 L388.25,306.59 L388.74,304.97 L389.23,303.42 L389.72,301.93 L390.21,300.5 L390.7,299.14 L391.19,297.85 L391.69,296.63 L392.18,295.47 L392.67,294.38 L393.16,293.35 L393.65,292.39 L394.14,291.5 L394.63,290.67 L395.12,289.91 L395.61,289.21 L396.1,288.58 L396.59,288.02 L397.08,287.52 L397.58,287.09 L398.07,286.73 L398.56,286.43 L399.05,286.2 L399.54,286.03 L400.03,285.93 L400.52,285.9 L401.01,285.93 L401.5,286.03 L401.99,286.2 L402.48,286.43 L402.97,286.73 L403.46,287.09 L403.96,287.52 L404.45,288.02 L404.94,288.58 L405.43,289.21 L405.92,289.91 L406.41,290.67 L406.9,291.5 L407.39,292.39 L407.88,293.35 L408.37,294.38 L408.86,295.47 L409.35,296.63 L409.85,297.85 L410.34,299.14 L410.83,300.5 L411.32,301.93 L411.81,303.42 L412.3,304.97 L412.79,306.59 L413.28,308.28 L413.77,310.04 L414.26,311.86 L414.75,313.75 L415.24,315.7 L415.73,317.67 L416.23,319.61 L416.72,321.51 L417.21,323.38 L417.7,325.22 L418.19,327.02 L418.68,328.8 L419.17,330.53 L419.66,332.24 L420.15,333.91 L420.64,335.55 L421.13,337.16 L421.62,338.73 L422.12,340.27 L422.61,341.77 L423.1,343.25 L423.59,344.69 L424.08,346.1 L424.57,347.47 L425.06,348.81 L425.55,350.12 L426.04,351.39 L426.53,352.64 L427.02,353.84 L427.51,355.02 L428,356.16 L428.5,357.27 L428.99,358.35 L429.48,359.39 L429.97,360.4 L430.46,361.38 L430.95,362.32 L431.44,363.23 L431.93,364.11 L432.42,364.95 L432.91,365.76 L433.4,366.54 L433.89,367.29 L434.39,368 L434.88,368.68 L435.37,369.32 L435.86,369.94 L436.35,370.52 L436.84,371.06 L437.33,371.57 L437.82,372.06 L438.31,372.5 L438.8,372.92 L439.29,373.3 L439.78,373.64 L440.27,373.96 L440.77,374.24 L441.26,374.49 L441.75,374.7 L442.24,374.89 L442.73,375.04 L443.22,375.15 L443.71,375.23 L444.2,375.28 L444.69,375.3" fill="none" stroke="#8a2fc2" stroke-width="1.9" stroke-linejoin="round"/>
<path d="M385.8,375.3 L386.29,375.28 L386.78,375.23 L387.27,375.15 L387.76,375.04 L388.25,374.89 L388.74,374.7 L389.23,374.49 L389.72,374.24 L390.21,373.96 L390.7,373.64 L391.19,373.3 L391.69,372.92 L392.18,372.5 L392.67,372.06 L393.16,371.57 L393.65,371.06 L394.14,370.52 L394.63,369.94 L395.12,369.32 L395.61,368.68 L396.1,368 L396.59,367.29 L397.08,366.54 L397.58,365.76 L398.07,364.95 L398.56,364.11 L399.05,363.23 L399.54,362.32 L400.03,361.38 L400.52,360.4 L401.01,359.39 L401.5,358.35 L401.99,357.27 L402.48,356.16 L402.97,355.02 L403.46,353.84 L403.96,352.64 L404.45,351.39 L404.94,350.12 L405.43,348.81 L405.92,347.47 L406.41,346.1 L406.9,344.69 L407.39,343.25 L407.88,341.77 L408.37,340.27 L408.86,338.73 L409.35,337.16 L409.85,335.55 L410.34,333.91 L410.83,332.24 L411.32,330.53 L411.81,328.8 L412.3,327.02 L412.79,325.22 L413.28,323.38 L413.77,321.51 L414.26,319.61 L414.75,317.67 L415.24,315.7 L415.73,313.75 L416.23,311.86 L416.72,310.04 L417.21,308.28 L417.7,306.59 L418.19,304.97 L418.68,303.42 L419.17,301.93 L419.66,300.5 L420.15,299.14 L420.64,297.85 L421.13,296.63 L421.62,295.47 L422.12,294.38 L422.61,293.35 L423.1,292.39 L423.59,291.5 L424.08,290.67 L424.57,289.91 L425.06,289.21 L425.55,288.58 L426.04,288.02 L426.53,287.52 L427.02,287.09 L427.51,286.73 L428,286.43 L428.5,286.2 L428.99,286.03 L429.48,285.93 L429.97,285.9 L430.46,285.93 L430.95,286.03 L431.44,286.2 L431.93,286.43 L432.42,286.73 L432.91,287.09 L433.4,287.52 L433.89,288.02 L434.39,288.58 L434.88,289.21 L435.37,289.91 L435.86,290.67 L436.35,291.5 L436.84,292.39 L437.33,293.35 L437.82,294.38 L438.31,295.47 L438.8,296.63 L439.29,297.85 L439.78,299.14 L440.27,300.5 L440.77,301.93 L441.26,303.42 L441.75,304.97 L442.24,306.59 L442.73,308.28 L443.22,310.04 L443.71,311.86 L444.2,313.75 L444.69,315.7 L445.18,317.67 L445.67,319.61 L446.16,321.51 L446.66,323.38 L447.15,325.22 L447.64,327.02 L448.13,328.8 L448.62,330.53 L449.11,332.24 L449.6,333.91 L450.09,335.55 L450.58,337.16 L451.07,338.73 L451.56,340.27 L452.05,341.78 L452.54,343.25 L453.04,344.69 L453.53,346.1 L454.02,347.47 L454.51,348.81 L455,350.12 L455.49,351.39 L455.98,352.64 L456.47,353.84 L456.96,355.02 L457.45,356.16 L457.94,357.27 L458.43,358.35 L458.93,359.39 L459.42,360.4 L459.91,361.38 L460.4,362.32 L460.89,363.23 L461.38,364.11 L461.87,364.95 L462.36,365.76 L462.85,366.54 L463.34,367.29 L463.83,368 L464.32,368.68 L464.81,369.32 L465.31,369.94 L465.8,370.52 L466.29,371.06 L466.78,371.57 L467.27,372.06 L467.76,372.5 L468.25,372.92 L468.74,373.3 L469.23,373.64 L469.72,373.96 L470.21,374.24 L470.7,374.49 L471.2,374.7 L471.69,374.89 L472.18,375.04 L472.67,375.15 L473.16,375.23 L473.65,375.28 L474.14,375.3" fill="none" stroke="#10a0d8" stroke-width="1.9" stroke-linejoin="round"/>
<path d="M415.24,375.3 L415.73,375.28 L416.23,375.23 L416.72,375.15 L417.21,375.04 L417.7,374.89 L418.19,374.7 L418.68,374.49 L419.17,374.24 L419.66,373.96 L420.15,373.64 L420.64,373.3 L421.13,372.92 L421.62,372.5 L422.12,372.06 L422.61,371.57 L423.1,371.06 L423.59,370.52 L424.08,369.94 L424.57,369.32 L425.06,368.68 L425.55,368 L426.04,367.29 L426.53,366.54 L427.02,365.76 L427.51,364.95 L428,364.11 L428.5,363.23 L428.99,362.32 L429.48,361.38 L429.97,360.4 L430.46,359.39 L430.95,358.35 L431.44,357.27 L431.93,356.16 L432.42,355.02 L432.91,353.84 L433.4,352.64 L433.89,351.39 L434.39,350.12 L434.88,348.81 L435.37,347.47 L435.86,346.1 L436.35,344.69 L436.84,343.25 L437.33,341.77 L437.82,340.27 L438.31,338.73 L438.8,337.16 L439.29,335.55 L439.78,333.91 L440.27,332.24 L440.77,330.53 L441.26,328.8 L441.75,327.02 L442.24,325.22 L442.73,323.38 L443.22,321.51 L443.71,319.61 L444.2,317.67 L444.69,315.7 L445.18,313.76 L445.67,311.93 L446.16,310.19 L446.66,308.55 L447.15,307.01 L447.64,305.57 L448.13,304.23 L448.62,302.99 L449.11,301.84 L449.6,300.8 L450.09,299.86 L450.58,299.01 L451.07,298.27 L451.56,297.62 L452.05,297.07 L452.54,296.63 L453.04,296.28 L453.53,296.03 L454.02,295.88 L454.51,295.83 L455,295.88 L455.49,296.03 L455.98,296.28 L456.47,296.63 L456.96,297.07 L457.45,297.62 L457.94,298.27 L458.43,299.01 L458.93,299.86 L459.42,300.8 L459.91,301.84 L460.4,302.99 L460.89,304.23 L461.38,305.57 L461.87,307.01 L462.36,308.55 L462.85,310.19 L463.34,311.93 L463.83,313.76 L464.32,315.7 L464.81,317.74 L465.31,319.87 L465.8,322.11 L466.29,324.44 L466.78,326.88 L467.27,329.41 L467.76,332.04 L468.25,334.77 L468.74,337.6 L469.23,340.53 L469.72,343.56 L470.21,346.69 L470.7,349.92 L471.2,353.25 L471.69,356.68 L472.18,360.2 L472.67,363.83 L473.16,367.55 L473.65,371.38 L474.14,375.3" fill="none" stroke="#b9e3f9" stroke-width="1.9" stroke-linejoin="round"/>
<path d="M444.69,375.3 L445.18,375.27 L445.67,375.17 L446.16,375 L446.66,374.77 L447.15,374.47 L447.64,374.11 L448.13,373.68 L448.62,373.18 L449.11,372.62 L449.6,371.99 L450.09,371.29 L450.58,370.53 L451.07,369.7 L451.56,368.81 L452.05,367.85 L452.54,366.82 L453.04,365.73 L453.53,364.57 L454.02,363.35 L454.51,362.06 L455,360.7 L455.49,359.27 L455.98,357.78 L456.47,356.23 L456.96,354.61 L457.45,352.92 L457.94,351.16 L458.43,349.34 L458.93,347.45 L459.42,345.5 L459.91,343.48 L460.4,341.39 L460.89,339.24 L461.38,337.02 L461.87,334.74 L462.36,332.39 L462.85,329.97 L463.34,327.49 L463.83,324.94 L464.32,322.32 L464.81,319.64 L465.31,316.89 L465.8,314.08 L466.29,311.2 L466.78,308.25 L467.27,305.24 L467.76,302.16 L468.25,299.01 L468.74,295.8 L469.23,292.52 L469.72,289.18 L470.21,285.77 L470.7,282.29 L471.2,278.75 L471.69,275.14 L472.18,271.46 L472.67,267.72 L473.16,263.91 L473.65,260.04 L474.14,256.1 L474.63,258.47 L475.12,260.82 L475.61,263.14 L476.1,265.45 L476.59,267.72 L477.08,269.97 L477.58,272.2 L478.07,274.41 L478.56,276.59 L479.05,278.75 L479.54,280.88 L480.03,282.99 L480.52,285.08 L481.01,287.14 L481.5,289.18 L481.99,291.19 L482.48,293.18 L482.97,295.15 L483.47,297.09 L483.96,299.01 L484.45,300.91 L484.94,302.78 L485.43,304.63 L485.92,306.45 L486.41,308.25 L486.9,310.03 L487.39,311.78 L487.88,313.51 L488.37,315.21 L488.86,316.89 L489.35,318.55 L489.85,320.18 L490.34,321.79 L490.83,323.38 L491.32,324.94 L491.81,326.48 L492.3,327.99 L492.79,329.48 L493.28,330.95 L493.77,332.39 L494.26,333.81 L494.75,335.2 L495.24,336.57 L495.74,337.92 L496.23,339.24 L496.72,340.54 L497.21,341.82 L497.7,343.07 L498.19,344.3 L498.68,345.5 L499.17,346.68 L499.66,347.84 L500.15,348.97 L500.64,350.08 L501.13,351.16 L501.62,352.22 L502.12,353.26 L502.61,354.27 L503.1,355.26 L503.59,356.23 L504.08,357.17 L504.57,358.09 L505.06,358.98 L505.55,359.85 L506.04,360.7 L506.53,361.52 L507.02,362.32 L507.51,363.09 L508.01,363.84 L508.5,364.57 L508.99,365.28 L509.48,365.95 L509.97,366.61 L510.46,367.24 L510.95,367.85 L511.44,368.43 L511.93,368.99 L512.42,369.53 L512.91,370.04 L513.4,370.53 L513.89,371 L514.39,371.44 L514.88,371.86 L515.37,372.25 L515.86,372.62 L516.35,372.96 L516.84,373.29 L517.33,373.58 L517.82,373.86 L518.31,374.11 L518.8,374.33 L519.29,374.54 L519.78,374.72 L520.28,374.87 L520.77,375 L521.26,375.11 L521.75,375.19 L522.24,375.25 L522.73,375.29 L523.22,375.3" fill="none" stroke="#d6f6d2" stroke-width="1.9" stroke-linejoin="round"/>
<path d="M474.14,375.3 L474.63,372.94 L475.12,370.63 L475.61,368.36 L476.1,366.15 L476.59,363.98 L477.08,361.85 L477.58,359.78 L478.07,357.75 L478.56,355.78 L479.05,353.84 L479.54,351.96 L480.03,350.12 L480.52,348.34 L481.01,346.6 L481.5,344.9 L481.99,343.26 L482.48,341.66 L482.97,340.11 L483.47,338.61 L483.96,337.16 L484.45,335.75 L484.94,334.39 L485.43,333.08 L485.92,331.82 L486.41,330.6 L486.9,329.43 L487.39,328.31 L487.88,327.24 L488.37,326.21 L488.86,325.24 L489.35,324.31 L489.85,323.42 L490.34,322.59 L490.83,321.8 L491.32,321.06 L491.81,320.37 L492.3,319.73 L492.79,319.13 L493.28,318.58 L493.77,318.08 L494.26,317.63 L494.75,317.23 L495.24,316.87 L495.74,316.56 L496.23,316.3 L496.72,316.08 L497.21,315.91 L497.7,315.8 L498.19,315.72 L498.68,315.7 L499.17,315.72 L499.66,315.8 L500.15,315.91 L500.64,316.08 L501.13,316.3 L501.62,316.56 L502.12,316.87 L502.61,317.23 L503.1,317.63 L503.59,318.08 L504.08,318.58 L504.57,319.13 L505.06,319.73 L505.55,320.37 L506.04,321.06 L506.53,321.8 L507.02,322.59 L507.51,323.42 L508.01,324.31 L508.5,325.24 L508.99,326.21 L509.48,327.24 L509.97,328.31 L510.46,329.43 L510.95,330.6 L511.44,331.82 L511.93,333.08 L512.42,334.39 L512.91,335.75 L513.4,337.16 L513.89,338.61 L514.39,340.11 L514.88,341.66 L515.37,343.26 L515.86,344.9 L516.35,346.6 L516.84,348.34 L517.33,350.12 L517.82,351.96 L518.31,353.84 L518.8,355.78 L519.29,357.75 L519.78,359.78 L520.28,361.85 L520.77,363.98 L521.26,366.15 L521.75,368.36 L522.24,370.63 L522.73,372.94 L523.22,375.3" fill="none" stroke="#4fa08c" stroke-width="1.9" stroke-linejoin="round"/>
<path d="M474.14,375.3 L474.63,375.29 L475.12,375.25 L475.61,375.19 L476.1,375.11 L476.59,375 L477.08,374.87 L477.58,374.72 L478.07,374.54 L478.56,374.33 L479.05,374.11 L479.54,373.86 L480.03,373.58 L480.52,373.29 L481.01,372.96 L481.5,372.62 L481.99,372.25 L482.48,371.86 L482.97,371.44 L483.47,371 L483.96,370.53 L484.45,370.04 L484.94,369.53 L485.43,368.99 L485.92,368.43 L486.41,367.85 L486.9,367.24 L487.39,366.61 L487.88,365.95 L488.37,365.28 L488.86,364.57 L489.35,363.84 L489.85,363.09 L490.34,362.32 L490.83,361.52 L491.32,360.7 L491.81,359.85 L492.3,358.98 L492.79,358.09 L493.28,357.17 L493.77,356.23 L494.26,355.26 L494.75,354.27 L495.24,353.26 L495.74,352.22 L496.23,351.16 L496.72,350.08 L497.21,348.97 L497.7,347.84 L498.19,346.68 L498.68,345.5 L499.17,344.3 L499.66,343.07 L500.15,341.82 L500.64,340.54 L501.13,339.24 L501.62,337.92 L502.12,336.57 L502.61,335.2 L503.1,333.81 L503.59,332.39 L504.08,330.95 L504.57,329.48 L505.06,327.99 L505.55,326.48 L506.04,324.94 L506.53,323.38 L507.02,321.79 L507.51,320.18 L508.01,318.55 L508.5,316.89 L508.99,315.21 L509.48,313.51 L509.97,311.78 L510.46,310.03 L510.95,308.25 L511.44,306.45 L511.93,304.63 L512.42,302.78 L512.91,300.91 L513.4,299.01 L513.89,297.09 L514.39,295.15 L514.88,293.18 L515.37,291.19 L515.86,289.18 L516.35,287.14 L516.84,285.08 L517.33,282.99 L517.82,280.88 L518.31,278.75 L518.8,276.59 L519.29,274.41 L519.78,272.2 L520.28,269.97 L520.77,267.72 L521.26,265.45 L521.75,263.14 L522.24,260.82 L522.73,258.47 L523.22,256.1" fill="none" stroke="#000000" stroke-width="1.9" stroke-linejoin="round"/>
<text x="20.4" y="246.6" font-size="15.5" font-style="italic">N<tspan font-size="7.8" dy="3.6" dx="-0.9">i</tspan><tspan font-size="7.5" dy="-11.2" dx="0.7">2</tspan></text>
<text x="310.8" y="247.3" font-size="15.5" font-style="italic">N<tspan font-size="7.8" dy="3.6" dx="-0.9">i</tspan><tspan font-size="7.5" dy="-11.2" dx="0.7">2</tspan></text>
<text x="245.6" y="386.6" font-size="15" font-style="italic">t<tspan font-size="8" dy="3" dx="-0.6">i</tspan></text>
<text x="536.7" y="386" font-size="15" font-style="italic">t<tspan font-size="8" dy="2.8" dx="-0.6">i</tspan></text>
</svg></body></html>
